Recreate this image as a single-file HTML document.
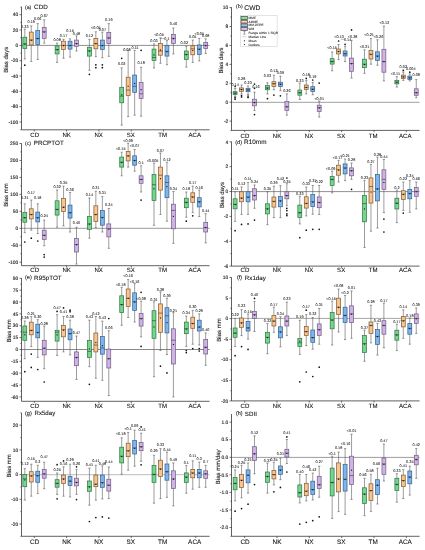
<!DOCTYPE html>
<html lang="en"><head><meta charset="utf-8"><title>Box plots of bias</title>
<style>html,body{margin:0;padding:0;background:#fff}svg{display:block}</style></head>
<body>
<svg width="425" height="550" viewBox="0 0 425 550" font-family="'Liberation Sans', sans-serif" text-rendering="geometricPrecision">
<rect width="425" height="550" fill="#fff"/>
<g id="panel-a">
<line x1="21.5" y1="45.4" x2="209.6" y2="45.4" stroke="#555" stroke-width="0.65"/>
<path d="M24.8 29.3V37.2M24.8 48.6V59M23.7 29.3h2.2M23.7 59h2.2" stroke="#5a5a5a" stroke-width="0.6" fill="none"/>
<rect x="22.85" y="37.2" width="3.9" height="11.4" fill="#72d98b" stroke="#2f6f42" stroke-width="0.7"/>
<line x1="22.85" y1="43.9" x2="26.75" y2="43.9" stroke="#333" stroke-width="0.6"/>
<rect x="24.25" y="43.65" width="1.1" height="1.1" fill="#111"/>
<circle cx="24.8" cy="65.2" r="0.85" fill="#111"/>
<text transform="translate(24.8 27.6) scale(0.1)" font-size="38" text-anchor="middle" fill="#222" stroke="#222" stroke-width="0.5">0.23</text>
<path d="M31.25 25.9V32.1M31.25 45V61.4M30.15 25.9h2.2M30.15 61.4h2.2" stroke="#5a5a5a" stroke-width="0.6" fill="none"/>
<rect x="29.3" y="32.1" width="3.9" height="12.9" fill="#fbc48c" stroke="#775935" stroke-width="0.7"/>
<line x1="29.3" y1="40" x2="33.2" y2="40" stroke="#333" stroke-width="0.6"/>
<rect x="30.7" y="39.75" width="1.1" height="1.1" fill="#111"/>
<text transform="translate(31.25 23.4) scale(0.1)" font-size="38" text-anchor="middle" fill="#222" stroke="#222" stroke-width="0.5">0.19</text>
<path d="M37.75 23.6V30.6M37.75 44.4V59.5M36.65 23.6h2.2M36.65 59.5h2.2" stroke="#5a5a5a" stroke-width="0.6" fill="none"/>
<rect x="35.8" y="30.6" width="3.9" height="13.8" fill="#7ab6f2" stroke="#395c82" stroke-width="0.7"/>
<line x1="35.8" y1="38.4" x2="39.7" y2="38.4" stroke="#333" stroke-width="0.6"/>
<rect x="37.2" y="38.15" width="1.1" height="1.1" fill="#111"/>
<text transform="translate(37.75 20) scale(0.1)" font-size="38" text-anchor="middle" fill="#222" stroke="#222" stroke-width="0.5">0.06</text>
<path d="M44.2 19.8V27.4M44.2 38.4V43.1M43.1 19.8h2.2M43.1 43.1h2.2" stroke="#5a5a5a" stroke-width="0.6" fill="none"/>
<rect x="42.25" y="27.4" width="3.9" height="11" fill="#d0b2e6" stroke="#6d5a82" stroke-width="0.7"/>
<line x1="42.25" y1="31.8" x2="46.15" y2="31.8" stroke="#333" stroke-width="0.6"/>
<rect x="43.65" y="31.55" width="1.1" height="1.1" fill="#111"/>
<text transform="translate(44.2 16.6) scale(0.1)" font-size="38" text-anchor="middle" fill="#222" stroke="#222" stroke-width="0.5">0.67</text>
<path d="M57.1 43.1V45.9M57.1 53.9V62.4M56 43.1h2.2M56 62.4h2.2" stroke="#5a5a5a" stroke-width="0.6" fill="none"/>
<rect x="55.15" y="45.9" width="3.9" height="8" fill="#72d98b" stroke="#2f6f42" stroke-width="0.7"/>
<line x1="55.15" y1="49.5" x2="59.05" y2="49.5" stroke="#333" stroke-width="0.6"/>
<rect x="56.55" y="49.25" width="1.1" height="1.1" fill="#111"/>
<text transform="translate(57.1 41.1) scale(0.1)" font-size="38" text-anchor="middle" fill="#222" stroke="#222" stroke-width="0.5">0.08</text>
<path d="M63.55 39.3V41.2M63.55 49.5V58.2M62.45 39.3h2.2M62.45 58.2h2.2" stroke="#5a5a5a" stroke-width="0.6" fill="none"/>
<rect x="61.6" y="41.2" width="3.9" height="8.3" fill="#fbc48c" stroke="#775935" stroke-width="0.7"/>
<line x1="61.6" y1="45.4" x2="65.5" y2="45.4" stroke="#333" stroke-width="0.6"/>
<rect x="63" y="45.15" width="1.1" height="1.1" fill="#111"/>
<text transform="translate(63.55 37.1) scale(0.1)" font-size="38" text-anchor="middle" fill="#222" stroke="#222" stroke-width="0.5">0.17</text>
<path d="M70.05 38.8V41.2M70.05 49.1V57.1M68.95 38.8h2.2M68.95 57.1h2.2" stroke="#5a5a5a" stroke-width="0.6" fill="none"/>
<rect x="68.1" y="41.2" width="3.9" height="7.9" fill="#7ab6f2" stroke="#395c82" stroke-width="0.7"/>
<line x1="68.1" y1="45.4" x2="72" y2="45.4" stroke="#333" stroke-width="0.6"/>
<rect x="69.5" y="45.15" width="1.1" height="1.1" fill="#111"/>
<text transform="translate(70.05 31.7) scale(0.1)" font-size="38" text-anchor="middle" fill="#222" stroke="#222" stroke-width="0.5">0.15</text>
<path d="M76.5 35.9V40.1M76.5 46.3V51M75.4 35.9h2.2M75.4 51h2.2" stroke="#5a5a5a" stroke-width="0.6" fill="none"/>
<rect x="74.55" y="40.1" width="3.9" height="6.2" fill="#d0b2e6" stroke="#6d5a82" stroke-width="0.7"/>
<line x1="74.55" y1="43.5" x2="78.45" y2="43.5" stroke="#333" stroke-width="0.6"/>
<rect x="75.95" y="43.25" width="1.1" height="1.1" fill="#111"/>
<text transform="translate(76.5 34.6) scale(0.1)" font-size="38" text-anchor="middle" fill="#222" stroke="#222" stroke-width="0.5">0.48</text>
<path d="M89.4 39.3V47.3M89.4 56.1V70.3M88.3 39.3h2.2M88.3 70.3h2.2" stroke="#5a5a5a" stroke-width="0.6" fill="none"/>
<rect x="87.45" y="47.3" width="3.9" height="8.8" fill="#72d98b" stroke="#2f6f42" stroke-width="0.7"/>
<line x1="87.45" y1="50.8" x2="91.35" y2="50.8" stroke="#333" stroke-width="0.6"/>
<rect x="88.85" y="50.55" width="1.1" height="1.1" fill="#111"/>
<circle cx="89.4" cy="74.3" r="0.85" fill="#111"/>
<text transform="translate(89.4 37.1) scale(0.1)" font-size="38" text-anchor="middle" fill="#222" stroke="#222" stroke-width="0.5">0.12</text>
<path d="M95.85 31.8V38.4M95.85 48.8V56.7M94.75 31.8h2.2M94.75 56.7h2.2" stroke="#5a5a5a" stroke-width="0.6" fill="none"/>
<rect x="93.9" y="38.4" width="3.9" height="10.4" fill="#fbc48c" stroke="#775935" stroke-width="0.7"/>
<line x1="93.9" y1="43.5" x2="97.8" y2="43.5" stroke="#333" stroke-width="0.6"/>
<rect x="95.3" y="43.25" width="1.1" height="1.1" fill="#111"/>
<circle cx="95.85" cy="64.8" r="0.85" fill="#111"/>
<circle cx="95.85" cy="67.7" r="0.85" fill="#111"/>
<text transform="translate(95.85 29.1) scale(0.1)" font-size="38" text-anchor="middle" fill="#222" stroke="#222" stroke-width="0.5">&lt;0.05</text>
<path d="M102.35 32.1V40.1M102.35 49.5V57.7M101.25 32.1h2.2M101.25 57.7h2.2" stroke="#5a5a5a" stroke-width="0.6" fill="none"/>
<rect x="100.4" y="40.1" width="3.9" height="9.4" fill="#7ab6f2" stroke="#395c82" stroke-width="0.7"/>
<line x1="100.4" y1="45.4" x2="104.3" y2="45.4" stroke="#333" stroke-width="0.6"/>
<rect x="101.8" y="45.15" width="1.1" height="1.1" fill="#111"/>
<circle cx="102.35" cy="64.8" r="0.85" fill="#111"/>
<circle cx="102.35" cy="67.7" r="0.85" fill="#111"/>
<text transform="translate(102.35 31.3) scale(0.1)" font-size="38" text-anchor="middle" fill="#222" stroke="#222" stroke-width="0.5">0.07</text>
<path d="M108.8 23.6V32.5M108.8 43.5V56.3M107.7 23.6h2.2M107.7 56.3h2.2" stroke="#5a5a5a" stroke-width="0.6" fill="none"/>
<rect x="106.85" y="32.5" width="3.9" height="11" fill="#d0b2e6" stroke="#6d5a82" stroke-width="0.7"/>
<line x1="106.85" y1="37.8" x2="110.75" y2="37.8" stroke="#333" stroke-width="0.6"/>
<rect x="108.25" y="37.55" width="1.1" height="1.1" fill="#111"/>
<text transform="translate(108.8 20.9) scale(0.1)" font-size="38" text-anchor="middle" fill="#222" stroke="#222" stroke-width="0.5">0.19</text>
<path d="M121.7 67.8V87.3M121.7 102.8V125.1M120.6 67.8h2.2M120.6 125.1h2.2" stroke="#5a5a5a" stroke-width="0.6" fill="none"/>
<rect x="119.75" y="87.3" width="3.9" height="15.5" fill="#72d98b" stroke="#2f6f42" stroke-width="0.7"/>
<line x1="119.75" y1="96.1" x2="123.65" y2="96.1" stroke="#333" stroke-width="0.6"/>
<rect x="121.15" y="94.25" width="1.1" height="1.1" fill="#111"/>
<circle cx="121.7" cy="58.3" r="0.85" fill="#111"/>
<text transform="translate(121.7 64.8) scale(0.1)" font-size="38" text-anchor="middle" fill="#222" stroke="#222" stroke-width="0.5">0.02</text>
<path d="M128.15 50.4V77.2M128.15 95.4V116.6M127.05 50.4h2.2M127.05 116.6h2.2" stroke="#5a5a5a" stroke-width="0.6" fill="none"/>
<rect x="126.2" y="77.2" width="3.9" height="18.2" fill="#fbc48c" stroke="#775935" stroke-width="0.7"/>
<line x1="126.2" y1="90.1" x2="130.1" y2="90.1" stroke="#333" stroke-width="0.6"/>
<rect x="127.6" y="85.75" width="1.1" height="1.1" fill="#111"/>
<text transform="translate(126.85 50.6) scale(0.1)" font-size="38" text-anchor="middle" fill="#222" stroke="#222" stroke-width="0.5">0.08</text>
<path d="M134.65 50.4V75M134.65 92.4V115.2M133.55 50.4h2.2M133.55 115.2h2.2" stroke="#5a5a5a" stroke-width="0.6" fill="none"/>
<rect x="132.7" y="75" width="3.9" height="17.4" fill="#7ab6f2" stroke="#395c82" stroke-width="0.7"/>
<line x1="132.7" y1="86.3" x2="136.6" y2="86.3" stroke="#333" stroke-width="0.6"/>
<rect x="134.1" y="82.95" width="1.1" height="1.1" fill="#111"/>
<text transform="translate(135.15 48.7) scale(0.1)" font-size="38" text-anchor="middle" fill="#222" stroke="#222" stroke-width="0.5">0.11</text>
<path d="M141.1 67.3V82.4M141.1 98.5V116.2M140 67.3h2.2M140 116.2h2.2" stroke="#5a5a5a" stroke-width="0.6" fill="none"/>
<rect x="139.15" y="82.4" width="3.9" height="16.1" fill="#d0b2e6" stroke="#6d5a82" stroke-width="0.7"/>
<line x1="139.15" y1="93.8" x2="143.05" y2="93.8" stroke="#333" stroke-width="0.6"/>
<rect x="140.55" y="89.15" width="1.1" height="1.1" fill="#111"/>
<circle cx="141.1" cy="50.3" r="0.85" fill="#111"/>
<text transform="translate(141.1 63.7) scale(0.1)" font-size="38" text-anchor="middle" fill="#222" stroke="#222" stroke-width="0.5">0.18</text>
<path d="M154 43.9V49.1M154 60.5V68M152.9 43.9h2.2M152.9 68h2.2" stroke="#5a5a5a" stroke-width="0.6" fill="none"/>
<rect x="152.05" y="49.1" width="3.9" height="11.4" fill="#72d98b" stroke="#2f6f42" stroke-width="0.7"/>
<line x1="152.05" y1="57.5" x2="155.95" y2="57.5" stroke="#333" stroke-width="0.6"/>
<rect x="153.45" y="54.45" width="1.1" height="1.1" fill="#111"/>
<text transform="translate(154 41.7) scale(0.1)" font-size="38" text-anchor="middle" fill="#222" stroke="#222" stroke-width="0.5">0.03</text>
<path d="M160.45 37.8V43.5M160.45 55.2V63.3M159.35 37.8h2.2M159.35 63.3h2.2" stroke="#5a5a5a" stroke-width="0.6" fill="none"/>
<rect x="158.5" y="43.5" width="3.9" height="11.7" fill="#fbc48c" stroke="#775935" stroke-width="0.7"/>
<line x1="158.5" y1="51" x2="162.4" y2="51" stroke="#333" stroke-width="0.6"/>
<rect x="159.9" y="49.45" width="1.1" height="1.1" fill="#111"/>
<text transform="translate(158.95 36.1) scale(0.1)" font-size="38" text-anchor="middle" fill="#222" stroke="#222" stroke-width="0.5">&lt;0.05</text>
<path d="M166.95 40.6V45.4M166.95 56.1V64.7M165.85 40.6h2.2M165.85 64.7h2.2" stroke="#5a5a5a" stroke-width="0.6" fill="none"/>
<rect x="165" y="45.4" width="3.9" height="10.7" fill="#7ab6f2" stroke="#395c82" stroke-width="0.7"/>
<line x1="165" y1="51.4" x2="168.9" y2="51.4" stroke="#333" stroke-width="0.6"/>
<rect x="166.4" y="51.15" width="1.1" height="1.1" fill="#111"/>
<text transform="translate(166.95 40.2) scale(0.1)" font-size="38" text-anchor="middle" fill="#222" stroke="#222" stroke-width="0.5">0.1</text>
<path d="M173.4 28V34.4M173.4 43.5V53.9M172.3 28h2.2M172.3 53.9h2.2" stroke="#5a5a5a" stroke-width="0.6" fill="none"/>
<rect x="171.45" y="34.4" width="3.9" height="9.1" fill="#d0b2e6" stroke="#6d5a82" stroke-width="0.7"/>
<line x1="171.45" y1="38.4" x2="175.35" y2="38.4" stroke="#333" stroke-width="0.6"/>
<rect x="172.85" y="38.15" width="1.1" height="1.1" fill="#111"/>
<text transform="translate(173.4 25.3) scale(0.1)" font-size="38" text-anchor="middle" fill="#222" stroke="#222" stroke-width="0.5">0.46</text>
<path d="M186.3 46.3V51M186.3 59.5V67.1M185.2 46.3h2.2M185.2 67.1h2.2" stroke="#5a5a5a" stroke-width="0.6" fill="none"/>
<rect x="184.35" y="51" width="3.9" height="8.5" fill="#72d98b" stroke="#2f6f42" stroke-width="0.7"/>
<line x1="184.35" y1="54.4" x2="188.25" y2="54.4" stroke="#333" stroke-width="0.6"/>
<rect x="185.75" y="54.15" width="1.1" height="1.1" fill="#111"/>
<text transform="translate(184.3 44.2) scale(0.1)" font-size="38" text-anchor="middle" fill="#222" stroke="#222" stroke-width="0.5">0.02</text>
<path d="M192.75 40.1V45.9M192.75 54.8V62.4M191.65 40.1h2.2M191.65 62.4h2.2" stroke="#5a5a5a" stroke-width="0.6" fill="none"/>
<rect x="190.8" y="45.9" width="3.9" height="8.9" fill="#fbc48c" stroke="#775935" stroke-width="0.7"/>
<line x1="190.8" y1="48.8" x2="194.7" y2="48.8" stroke="#333" stroke-width="0.6"/>
<rect x="192.2" y="49.95" width="1.1" height="1.1" fill="#111"/>
<text transform="translate(192.75 38.3) scale(0.1)" font-size="38" text-anchor="middle" fill="#222" stroke="#222" stroke-width="0.5">0.05</text>
<path d="M199.25 38.4V45M199.25 54.4V60.9M198.15 38.4h2.2M198.15 60.9h2.2" stroke="#5a5a5a" stroke-width="0.6" fill="none"/>
<rect x="197.3" y="45" width="3.9" height="9.4" fill="#7ab6f2" stroke="#395c82" stroke-width="0.7"/>
<line x1="197.3" y1="49.1" x2="201.2" y2="49.1" stroke="#333" stroke-width="0.6"/>
<rect x="198.7" y="48.85" width="1.1" height="1.1" fill="#111"/>
<text transform="translate(199.25 35.1) scale(0.1)" font-size="38" text-anchor="middle" fill="#222" stroke="#222" stroke-width="0.5">&lt;0.05</text>
<path d="M205.7 38.8V42.5M205.7 48.6V53.5M204.6 38.8h2.2M204.6 53.5h2.2" stroke="#5a5a5a" stroke-width="0.6" fill="none"/>
<rect x="203.75" y="42.5" width="3.9" height="6.1" fill="#d0b2e6" stroke="#6d5a82" stroke-width="0.7"/>
<line x1="203.75" y1="45.4" x2="207.65" y2="45.4" stroke="#333" stroke-width="0.6"/>
<rect x="205.15" y="45.15" width="1.1" height="1.1" fill="#111"/>
<text transform="translate(205.7 37) scale(0.1)" font-size="38" text-anchor="middle" fill="#222" stroke="#222" stroke-width="0.5">0.68</text>
<path d="M21.5 6.8V129.8H209.6" stroke="#383838" stroke-width="0.8" fill="none"/>
<path d="M21.5 14.7h-2M21.5 30.03h-2M21.5 45.36h-2M21.5 60.69h-2M21.5 76.02h-2M21.5 91.35h-2M21.5 106.68h-2M21.5 122.01h-2M21.5 22.37h-1.1M21.5 37.7h-1.1M21.5 53.02h-1.1M21.5 68.36h-1.1M21.5 83.69h-1.1M21.5 99.02h-1.1M21.5 114.35h-1.1M21.5 129.68h-1.1M21.5 7.03h-1.1M34.3 129.8v1.7M66.6 129.8v1.7M98.9 129.8v1.7M131.2 129.8v1.7M163.5 129.8v1.7M195.8 129.8v1.7" stroke="#333" stroke-width="0.7" fill="none"/>
<text transform="translate(18.3 16.4) scale(0.1)" font-size="49" text-anchor="end" fill="#222" stroke="#222" stroke-width="1.2">40</text>
<text transform="translate(18.3 31.73) scale(0.1)" font-size="49" text-anchor="end" fill="#222" stroke="#222" stroke-width="1.2">20</text>
<text transform="translate(18.3 47.06) scale(0.1)" font-size="49" text-anchor="end" fill="#222" stroke="#222" stroke-width="1.2">0</text>
<text transform="translate(18.3 62.39) scale(0.1)" font-size="49" text-anchor="end" fill="#222" stroke="#222" stroke-width="1.2">-20</text>
<text transform="translate(18.3 77.72) scale(0.1)" font-size="49" text-anchor="end" fill="#222" stroke="#222" stroke-width="1.2">-40</text>
<text transform="translate(18.3 93.05) scale(0.1)" font-size="49" text-anchor="end" fill="#222" stroke="#222" stroke-width="1.2">-60</text>
<text transform="translate(18.3 108.38) scale(0.1)" font-size="49" text-anchor="end" fill="#222" stroke="#222" stroke-width="1.2">-80</text>
<text transform="translate(18.3 123.71) scale(0.1)" font-size="49" text-anchor="end" fill="#222" stroke="#222" stroke-width="1.2">-100</text>
<text transform="translate(24.9 8.6) scale(0.1)" font-size="53" text-anchor="start" fill="#111" stroke="#111" stroke-width="0.8">(a)</text>
<text transform="translate(34.1 9) scale(0.1)" font-size="63" text-anchor="start" fill="#111" stroke="#111" stroke-width="0.8">CDD</text>
<text transform="translate(8 59.8) rotate(-90) scale(0.1)" font-size="60" text-anchor="middle" fill="#111" stroke="#111" stroke-width="0.8">Bias days</text>
<text transform="translate(34.7 137.2) scale(0.1)" font-size="61" text-anchor="middle" fill="#111" stroke="#111" stroke-width="0.8">CD</text>
<text transform="translate(66.7 137.2) scale(0.1)" font-size="61" text-anchor="middle" fill="#111" stroke="#111" stroke-width="0.8">NK</text>
<text transform="translate(98.7 137.2) scale(0.1)" font-size="61" text-anchor="middle" fill="#111" stroke="#111" stroke-width="0.8">NX</text>
<text transform="translate(130.7 137.2) scale(0.1)" font-size="61" text-anchor="middle" fill="#111" stroke="#111" stroke-width="0.8">SX</text>
<text transform="translate(162.7 137.2) scale(0.1)" font-size="61" text-anchor="middle" fill="#111" stroke="#111" stroke-width="0.8">TM</text>
<text transform="translate(194.7 137.2) scale(0.1)" font-size="61" text-anchor="middle" fill="#111" stroke="#111" stroke-width="0.8">ACA</text>
</g>
<g id="panel-b">
<line x1="231.5" y1="102.3" x2="419.6" y2="102.3" stroke="#6a6a6a" stroke-width="0.65"/>
<path d="M235.1 88.5V91.7M235.1 94.5V96.4M234 88.5h2.2M234 96.4h2.2" stroke="#5a5a5a" stroke-width="0.6" fill="none"/>
<rect x="233.15" y="91.7" width="3.9" height="2.8" fill="#72d98b" stroke="#2f6f42" stroke-width="0.7"/>
<line x1="233.15" y1="93" x2="237.05" y2="93" stroke="#333" stroke-width="0.6"/>
<rect x="234.55" y="92.75" width="1.1" height="1.1" fill="#111"/>
<circle cx="235.1" cy="86.5" r="0.85" fill="#111"/>
<circle cx="235.1" cy="97.6" r="0.85" fill="#111"/>
<circle cx="235.1" cy="99.2" r="0.85" fill="#111"/>
<text transform="translate(235.1 85.6) scale(0.1)" font-size="38" text-anchor="middle" fill="#222" stroke="#222" stroke-width="0.5">0.14</text>
<path d="M241.55 85V87.9M241.55 91.3V94M240.45 85h2.2M240.45 94h2.2" stroke="#5a5a5a" stroke-width="0.6" fill="none"/>
<rect x="239.6" y="87.9" width="3.9" height="3.4" fill="#fbc48c" stroke="#775935" stroke-width="0.7"/>
<line x1="239.6" y1="89.4" x2="243.5" y2="89.4" stroke="#333" stroke-width="0.6"/>
<rect x="241" y="89.15" width="1.1" height="1.1" fill="#111"/>
<circle cx="241.55" cy="95.5" r="0.85" fill="#111"/>
<circle cx="241.55" cy="96.9" r="0.85" fill="#111"/>
<text transform="translate(241.55 80.1) scale(0.1)" font-size="38" text-anchor="middle" fill="#222" stroke="#222" stroke-width="0.5">0.28</text>
<path d="M248.05 86V88.3M248.05 91.7V94.5M246.95 86h2.2M246.95 94.5h2.2" stroke="#5a5a5a" stroke-width="0.6" fill="none"/>
<rect x="246.1" y="88.3" width="3.9" height="3.4" fill="#7ab6f2" stroke="#395c82" stroke-width="0.7"/>
<line x1="246.1" y1="89.8" x2="250" y2="89.8" stroke="#333" stroke-width="0.6"/>
<rect x="247.5" y="89.55" width="1.1" height="1.1" fill="#111"/>
<circle cx="248.05" cy="96" r="0.85" fill="#111"/>
<circle cx="248.05" cy="97.4" r="0.85" fill="#111"/>
<text transform="translate(248.05 83.7) scale(0.1)" font-size="38" text-anchor="middle" fill="#222" stroke="#222" stroke-width="0.5">0.23</text>
<path d="M254.5 92.2V99.2M254.5 105.8V110.5M253.4 92.2h2.2M253.4 110.5h2.2" stroke="#5a5a5a" stroke-width="0.6" fill="none"/>
<rect x="252.55" y="99.2" width="3.9" height="6.6" fill="#d0b2e6" stroke="#6d5a82" stroke-width="0.7"/>
<line x1="252.55" y1="102.4" x2="256.45" y2="102.4" stroke="#333" stroke-width="0.6"/>
<rect x="253.95" y="102.15" width="1.1" height="1.1" fill="#111"/>
<circle cx="254.5" cy="84.1" r="0.85" fill="#111"/>
<circle cx="254.5" cy="88.3" r="0.85" fill="#111"/>
<circle cx="254.5" cy="114.6" r="0.85" fill="#111"/>
<text transform="translate(256 88.4) scale(0.1)" font-size="38" text-anchor="middle" fill="#222" stroke="#222" stroke-width="0.5">0.16</text>
<path d="M267.45 82.8V85.6M267.45 89.8V94M266.35 82.8h2.2M266.35 94h2.2" stroke="#5a5a5a" stroke-width="0.6" fill="none"/>
<rect x="265.5" y="85.6" width="3.9" height="4.2" fill="#72d98b" stroke="#2f6f42" stroke-width="0.7"/>
<line x1="265.5" y1="87.9" x2="269.4" y2="87.9" stroke="#333" stroke-width="0.6"/>
<rect x="266.9" y="87.65" width="1.1" height="1.1" fill="#111"/>
<circle cx="267.45" cy="98.7" r="0.85" fill="#111"/>
<text transform="translate(267.45 77.1) scale(0.1)" font-size="38" text-anchor="middle" fill="#222" stroke="#222" stroke-width="0.5">0.03</text>
<path d="M273.9 75.2V81.7M273.9 86.4V89.8M272.8 75.2h2.2M272.8 89.8h2.2" stroke="#5a5a5a" stroke-width="0.6" fill="none"/>
<rect x="271.95" y="81.7" width="3.9" height="4.7" fill="#fbc48c" stroke="#775935" stroke-width="0.7"/>
<line x1="271.95" y1="83.6" x2="275.85" y2="83.6" stroke="#333" stroke-width="0.6"/>
<rect x="273.35" y="83.35" width="1.1" height="1.1" fill="#111"/>
<circle cx="273.9" cy="95.1" r="0.85" fill="#111"/>
<text transform="translate(273.9 72) scale(0.1)" font-size="38" text-anchor="middle" fill="#222" stroke="#222" stroke-width="0.5">0.12</text>
<path d="M280.4 76.2V82.2M280.4 86.6V90.7M279.3 76.2h2.2M279.3 90.7h2.2" stroke="#5a5a5a" stroke-width="0.6" fill="none"/>
<rect x="278.45" y="82.2" width="3.9" height="4.4" fill="#7ab6f2" stroke="#395c82" stroke-width="0.7"/>
<line x1="278.45" y1="84.1" x2="282.35" y2="84.1" stroke="#333" stroke-width="0.6"/>
<rect x="279.85" y="83.85" width="1.1" height="1.1" fill="#111"/>
<circle cx="280.4" cy="95.8" r="0.85" fill="#111"/>
<text transform="translate(280.4 74.4) scale(0.1)" font-size="38" text-anchor="middle" fill="#222" stroke="#222" stroke-width="0.5">0.09</text>
<path d="M286.85 93.9V101.5M286.85 110.3V115.2M285.75 93.9h2.2M285.75 115.2h2.2" stroke="#5a5a5a" stroke-width="0.6" fill="none"/>
<rect x="284.9" y="101.5" width="3.9" height="8.8" fill="#d0b2e6" stroke="#6d5a82" stroke-width="0.7"/>
<line x1="284.9" y1="106.7" x2="288.8" y2="106.7" stroke="#333" stroke-width="0.6"/>
<rect x="286.3" y="106.45" width="1.1" height="1.1" fill="#111"/>
<text transform="translate(286.85 91.8) scale(0.1)" font-size="38" text-anchor="middle" fill="#222" stroke="#222" stroke-width="0.5">0.26</text>
<path d="M299.8 83.1V90.1M299.8 95.2V99.5M298.7 83.1h2.2M298.7 99.5h2.2" stroke="#5a5a5a" stroke-width="0.6" fill="none"/>
<rect x="297.85" y="90.1" width="3.9" height="5.1" fill="#72d98b" stroke="#2f6f42" stroke-width="0.7"/>
<line x1="297.85" y1="92.6" x2="301.75" y2="92.6" stroke="#333" stroke-width="0.6"/>
<rect x="299.25" y="92.35" width="1.1" height="1.1" fill="#111"/>
<text transform="translate(299.8 82.3) scale(0.1)" font-size="38" text-anchor="middle" fill="#222" stroke="#222" stroke-width="0.5">0.23</text>
<path d="M306.25 80.6V85M306.25 89.5V93.9M305.15 80.6h2.2M305.15 93.9h2.2" stroke="#5a5a5a" stroke-width="0.6" fill="none"/>
<rect x="304.3" y="85" width="3.9" height="4.5" fill="#fbc48c" stroke="#775935" stroke-width="0.7"/>
<line x1="304.3" y1="87.3" x2="308.2" y2="87.3" stroke="#333" stroke-width="0.6"/>
<rect x="305.7" y="87.05" width="1.1" height="1.1" fill="#111"/>
<circle cx="306.25" cy="78.4" r="0.85" fill="#111"/>
<text transform="translate(306.25 76.1) scale(0.1)" font-size="38" text-anchor="middle" fill="#222" stroke="#222" stroke-width="0.5">0.18</text>
<path d="M312.75 82.5V86.7M312.75 91.4V94.8M311.65 82.5h2.2M311.65 94.8h2.2" stroke="#5a5a5a" stroke-width="0.6" fill="none"/>
<rect x="310.8" y="86.7" width="3.9" height="4.7" fill="#7ab6f2" stroke="#395c82" stroke-width="0.7"/>
<line x1="310.8" y1="89.1" x2="314.7" y2="89.1" stroke="#333" stroke-width="0.6"/>
<rect x="312.2" y="88.85" width="1.1" height="1.1" fill="#111"/>
<circle cx="312.75" cy="80" r="0.85" fill="#111"/>
<text transform="translate(312.75 78.3) scale(0.1)" font-size="38" text-anchor="middle" fill="#222" stroke="#222" stroke-width="0.5">0.19</text>
<path d="M319.2 101V105.2M319.2 111.5V117.1M318.1 101h2.2M318.1 117.1h2.2" stroke="#5a5a5a" stroke-width="0.6" fill="none"/>
<rect x="317.25" y="105.2" width="3.9" height="6.3" fill="#d0b2e6" stroke="#6d5a82" stroke-width="0.7"/>
<line x1="317.25" y1="107.7" x2="321.15" y2="107.7" stroke="#333" stroke-width="0.6"/>
<rect x="318.65" y="107.45" width="1.1" height="1.1" fill="#111"/>
<circle cx="319.2" cy="83.1" r="0.85" fill="#111"/>
<text transform="translate(319.2 99.7) scale(0.1)" font-size="38" text-anchor="middle" fill="#222" stroke="#222" stroke-width="0.5">&lt;0.01</text>
<path d="M332.15 52V58.7M332.15 64.1V70.8M331.05 52h2.2M331.05 70.8h2.2" stroke="#5a5a5a" stroke-width="0.6" fill="none"/>
<rect x="330.2" y="58.7" width="3.9" height="5.4" fill="#72d98b" stroke="#2f6f42" stroke-width="0.7"/>
<line x1="330.2" y1="61.4" x2="334.1" y2="61.4" stroke="#333" stroke-width="0.6"/>
<rect x="331.6" y="61.15" width="1.1" height="1.1" fill="#111"/>
<text transform="translate(332.15 49.3) scale(0.1)" font-size="38" text-anchor="middle" fill="#222" stroke="#222" stroke-width="0.5">&lt;0.15</text>
<path d="M338.6 44.5V49M338.6 53.9V59.6M337.5 44.5h2.2M337.5 59.6h2.2" stroke="#5a5a5a" stroke-width="0.6" fill="none"/>
<rect x="336.65" y="49" width="3.9" height="4.9" fill="#fbc48c" stroke="#775935" stroke-width="0.7"/>
<line x1="336.65" y1="51.3" x2="340.55" y2="51.3" stroke="#333" stroke-width="0.6"/>
<rect x="338.05" y="51.05" width="1.1" height="1.1" fill="#111"/>
<circle cx="338.6" cy="41" r="0.85" fill="#111"/>
<text transform="translate(339.1 37.7) scale(0.1)" font-size="38" text-anchor="middle" fill="#222" stroke="#222" stroke-width="0.5">&lt;0.13</text>
<path d="M345.1 46.3V51M345.1 56V61.6M344 46.3h2.2M344 61.6h2.2" stroke="#5a5a5a" stroke-width="0.6" fill="none"/>
<rect x="343.15" y="51" width="3.9" height="5" fill="#7ab6f2" stroke="#395c82" stroke-width="0.7"/>
<line x1="343.15" y1="53.6" x2="347.05" y2="53.6" stroke="#333" stroke-width="0.6"/>
<rect x="344.55" y="53.35" width="1.1" height="1.1" fill="#111"/>
<circle cx="345.1" cy="44.3" r="0.85" fill="#111"/>
<text transform="translate(347.6 40.9) scale(0.1)" font-size="38" text-anchor="middle" fill="#222" stroke="#222" stroke-width="0.5">0.14</text>
<path d="M351.55 40.3V58.1M351.55 71.3V78.1M350.45 40.3h2.2M350.45 78.1h2.2" stroke="#5a5a5a" stroke-width="0.6" fill="none"/>
<rect x="349.6" y="58.1" width="3.9" height="13.2" fill="#d0b2e6" stroke="#6d5a82" stroke-width="0.7"/>
<line x1="349.6" y1="63.5" x2="353.5" y2="63.5" stroke="#333" stroke-width="0.6"/>
<rect x="351" y="63.25" width="1.1" height="1.1" fill="#111"/>
<circle cx="351.55" cy="29.9" r="0.85" fill="#111"/>
<text transform="translate(352.55 37.7) scale(0.1)" font-size="38" text-anchor="middle" fill="#222" stroke="#222" stroke-width="0.5">&lt;0.28</text>
<path d="M364.5 49.8V59.2M364.5 67.7V73.4M363.4 49.8h2.2M363.4 73.4h2.2" stroke="#5a5a5a" stroke-width="0.6" fill="none"/>
<rect x="362.55" y="59.2" width="3.9" height="8.5" fill="#72d98b" stroke="#2f6f42" stroke-width="0.7"/>
<line x1="362.55" y1="64.2" x2="366.45" y2="64.2" stroke="#333" stroke-width="0.6"/>
<rect x="363.95" y="63.95" width="1.1" height="1.1" fill="#111"/>
<text transform="translate(364.5 48.4) scale(0.1)" font-size="38" text-anchor="middle" fill="#222" stroke="#222" stroke-width="0.5">&lt;0.31</text>
<path d="M370.95 38.6V50.5M370.95 59V64.2M369.85 38.6h2.2M369.85 64.2h2.2" stroke="#5a5a5a" stroke-width="0.6" fill="none"/>
<rect x="369" y="50.5" width="3.9" height="8.5" fill="#fbc48c" stroke="#775935" stroke-width="0.7"/>
<line x1="369" y1="54.2" x2="372.9" y2="54.2" stroke="#333" stroke-width="0.6"/>
<rect x="370.4" y="53.95" width="1.1" height="1.1" fill="#111"/>
<text transform="translate(369.15 35.9) scale(0.1)" font-size="38" text-anchor="middle" fill="#222" stroke="#222" stroke-width="0.5">&lt;0.21</text>
<path d="M377.45 39.8V51.8M377.45 60.5V65.2M376.35 39.8h2.2M376.35 65.2h2.2" stroke="#5a5a5a" stroke-width="0.6" fill="none"/>
<rect x="375.5" y="51.8" width="3.9" height="8.7" fill="#7ab6f2" stroke="#395c82" stroke-width="0.7"/>
<line x1="375.5" y1="56" x2="379.4" y2="56" stroke="#333" stroke-width="0.6"/>
<rect x="376.9" y="55.75" width="1.1" height="1.1" fill="#111"/>
<text transform="translate(378.45 38.4) scale(0.1)" font-size="38" text-anchor="middle" fill="#222" stroke="#222" stroke-width="0.5">&lt;0.26</text>
<path d="M383.9 26.1V49.3M383.9 72.2V80.9M382.8 26.1h2.2M382.8 80.9h2.2" stroke="#5a5a5a" stroke-width="0.6" fill="none"/>
<rect x="381.95" y="49.3" width="3.9" height="22.9" fill="#d0b2e6" stroke="#6d5a82" stroke-width="0.7"/>
<line x1="381.95" y1="61.5" x2="385.85" y2="61.5" stroke="#333" stroke-width="0.6"/>
<rect x="383.35" y="61.25" width="1.1" height="1.1" fill="#111"/>
<text transform="translate(384.4 23.5) scale(0.1)" font-size="38" text-anchor="middle" fill="#222" stroke="#222" stroke-width="0.5">&lt;0.13</text>
<path d="M396.85 76.6V80.4M396.85 83.9V87.1M395.75 76.6h2.2M395.75 87.1h2.2" stroke="#5a5a5a" stroke-width="0.6" fill="none"/>
<rect x="394.9" y="80.4" width="3.9" height="3.5" fill="#72d98b" stroke="#2f6f42" stroke-width="0.7"/>
<line x1="394.9" y1="82.1" x2="398.8" y2="82.1" stroke="#333" stroke-width="0.6"/>
<rect x="396.3" y="81.85" width="1.1" height="1.1" fill="#111"/>
<text transform="translate(395.35 74.5) scale(0.1)" font-size="38" text-anchor="middle" fill="#222" stroke="#222" stroke-width="0.5">&lt;0.11</text>
<path d="M403.3 72.2V75.1M403.3 78.6V80.4M402.2 72.2h2.2M402.2 80.4h2.2" stroke="#5a5a5a" stroke-width="0.6" fill="none"/>
<rect x="401.35" y="75.1" width="3.9" height="3.5" fill="#fbc48c" stroke="#775935" stroke-width="0.7"/>
<line x1="401.35" y1="76.8" x2="405.25" y2="76.8" stroke="#333" stroke-width="0.6"/>
<rect x="402.75" y="76.55" width="1.1" height="1.1" fill="#111"/>
<circle cx="403.3" cy="70.4" r="0.85" fill="#111"/>
<text transform="translate(403.3 67.5) scale(0.1)" font-size="38" text-anchor="middle" fill="#222" stroke="#222" stroke-width="0.5">0.02</text>
<path d="M409.8 73.9V76.1M409.8 79.4V80.9M408.7 73.9h2.2M408.7 80.9h2.2" stroke="#5a5a5a" stroke-width="0.6" fill="none"/>
<rect x="407.85" y="76.1" width="3.9" height="3.3" fill="#7ab6f2" stroke="#395c82" stroke-width="0.7"/>
<line x1="407.85" y1="77.8" x2="411.75" y2="77.8" stroke="#333" stroke-width="0.6"/>
<rect x="409.25" y="77.55" width="1.1" height="1.1" fill="#111"/>
<circle cx="409.8" cy="72.2" r="0.85" fill="#111"/>
<text transform="translate(410.8 69.5) scale(0.1)" font-size="38" text-anchor="middle" fill="#222" stroke="#222" stroke-width="0.5">0.004</text>
<path d="M416.25 79.6V88.8M416.25 95.3V97.8M415.15 79.6h2.2M415.15 97.8h2.2" stroke="#5a5a5a" stroke-width="0.6" fill="none"/>
<rect x="414.3" y="88.8" width="3.9" height="6.5" fill="#d0b2e6" stroke="#6d5a82" stroke-width="0.7"/>
<line x1="414.3" y1="92.6" x2="418.2" y2="92.6" stroke="#333" stroke-width="0.6"/>
<rect x="415.7" y="92.35" width="1.1" height="1.1" fill="#111"/>
<text transform="translate(416.25 75.7) scale(0.1)" font-size="38" text-anchor="middle" fill="#222" stroke="#222" stroke-width="0.5">0.08</text>
<path d="M231.5 7.2V130.4H419.6" stroke="#383838" stroke-width="0.8" fill="none"/>
<path d="M231.5 7.6h-2M231.5 26.52h-2M231.5 45.44h-2M231.5 64.36h-2M231.5 83.28h-2M231.5 102.2h-2M231.5 121.12h-2M231.5 17.06h-1.1M231.5 35.98h-1.1M231.5 54.9h-1.1M231.5 73.82h-1.1M231.5 92.74h-1.1M231.5 111.66h-1.1M231.5 130.58h-1.1M244.6 130.4v1.7M276.95 130.4v1.7M309.3 130.4v1.7M341.65 130.4v1.7M374 130.4v1.7M406.35 130.4v1.7" stroke="#333" stroke-width="0.7" fill="none"/>
<text transform="translate(228.3 9.3) scale(0.1)" font-size="49" text-anchor="end" fill="#222" stroke="#222" stroke-width="1.2">10</text>
<text transform="translate(228.3 28.22) scale(0.1)" font-size="49" text-anchor="end" fill="#222" stroke="#222" stroke-width="1.2">8</text>
<text transform="translate(228.3 47.14) scale(0.1)" font-size="49" text-anchor="end" fill="#222" stroke="#222" stroke-width="1.2">6</text>
<text transform="translate(228.3 66.06) scale(0.1)" font-size="49" text-anchor="end" fill="#222" stroke="#222" stroke-width="1.2">4</text>
<text transform="translate(228.3 84.98) scale(0.1)" font-size="49" text-anchor="end" fill="#222" stroke="#222" stroke-width="1.2">2</text>
<text transform="translate(228.3 103.9) scale(0.1)" font-size="49" text-anchor="end" fill="#222" stroke="#222" stroke-width="1.2">0</text>
<text transform="translate(228.3 122.82) scale(0.1)" font-size="49" text-anchor="end" fill="#222" stroke="#222" stroke-width="1.2">-2</text>
<text transform="translate(236 8.4) scale(0.1)" font-size="57" text-anchor="start" fill="#111" stroke="#111" stroke-width="0.8" font-family="'Liberation Serif', serif">(b)</text>
<text transform="translate(244.3 9.9) scale(0.1)" font-size="67" text-anchor="start" fill="#111" stroke="#111" stroke-width="0.8">CWD</text>
<text transform="translate(223.2 60.5) rotate(-90) scale(0.1)" font-size="60" text-anchor="middle" fill="#111" stroke="#111" stroke-width="0.8">Bias days</text>
<text transform="translate(245 138) scale(0.1)" font-size="61" text-anchor="middle" fill="#111" stroke="#111" stroke-width="0.8">CD</text>
<text transform="translate(277.05 138) scale(0.1)" font-size="61" text-anchor="middle" fill="#111" stroke="#111" stroke-width="0.8">NK</text>
<text transform="translate(309.1 138) scale(0.1)" font-size="61" text-anchor="middle" fill="#111" stroke="#111" stroke-width="0.8">NX</text>
<text transform="translate(341.15 138) scale(0.1)" font-size="61" text-anchor="middle" fill="#111" stroke="#111" stroke-width="0.8">SX</text>
<text transform="translate(373.2 138) scale(0.1)" font-size="61" text-anchor="middle" fill="#111" stroke="#111" stroke-width="0.8">TM</text>
<text transform="translate(405.25 138) scale(0.1)" font-size="61" text-anchor="middle" fill="#111" stroke="#111" stroke-width="0.8">ACA</text>
</g>
<g id="panel-c">
<line x1="21.5" y1="228.3" x2="209.6" y2="228.3" stroke="#666" stroke-width="0.65"/>
<path d="M24.8 203.8V212.6M24.8 222.2V232.7M23.7 203.8h2.2M23.7 232.7h2.2" stroke="#5a5a5a" stroke-width="0.6" fill="none"/>
<rect x="22.85" y="212.6" width="3.9" height="9.6" fill="#72d98b" stroke="#2f6f42" stroke-width="0.7"/>
<line x1="22.85" y1="217.6" x2="26.75" y2="217.6" stroke="#333" stroke-width="0.6"/>
<rect x="24.25" y="217.35" width="1.1" height="1.1" fill="#111"/>
<circle cx="24.8" cy="242" r="0.85" fill="#111"/>
<text transform="translate(24.8 198.6) scale(0.1)" font-size="38" text-anchor="middle" fill="#222" stroke="#222" stroke-width="0.5">0.21</text>
<path d="M31.25 200V208.8M31.25 218.9V230.2M30.15 200h2.2M30.15 230.2h2.2" stroke="#5a5a5a" stroke-width="0.6" fill="none"/>
<rect x="29.3" y="208.8" width="3.9" height="10.1" fill="#fbc48c" stroke="#775935" stroke-width="0.7"/>
<line x1="29.3" y1="214.4" x2="33.2" y2="214.4" stroke="#333" stroke-width="0.6"/>
<rect x="30.7" y="214.15" width="1.1" height="1.1" fill="#111"/>
<circle cx="31.25" cy="238.2" r="0.85" fill="#111"/>
<text transform="translate(31.25 193.6) scale(0.1)" font-size="38" text-anchor="middle" fill="#222" stroke="#222" stroke-width="0.5">0.17</text>
<path d="M37.75 203.8V212.1M37.75 221.9V233.5M36.65 203.8h2.2M36.65 233.5h2.2" stroke="#5a5a5a" stroke-width="0.6" fill="none"/>
<rect x="35.8" y="212.1" width="3.9" height="9.8" fill="#7ab6f2" stroke="#395c82" stroke-width="0.7"/>
<line x1="35.8" y1="217.6" x2="39.7" y2="217.6" stroke="#333" stroke-width="0.6"/>
<rect x="37.2" y="217.35" width="1.1" height="1.1" fill="#111"/>
<circle cx="37.75" cy="241" r="0.85" fill="#111"/>
<text transform="translate(37.75 199.1) scale(0.1)" font-size="38" text-anchor="middle" fill="#222" stroke="#222" stroke-width="0.5">0.18</text>
<path d="M44.2 220.1V230.2M44.2 239.5V245.8M43.1 220.1h2.2M43.1 245.8h2.2" stroke="#5a5a5a" stroke-width="0.6" fill="none"/>
<rect x="42.25" y="230.2" width="3.9" height="9.3" fill="#d0b2e6" stroke="#6d5a82" stroke-width="0.7"/>
<line x1="42.25" y1="235.2" x2="46.15" y2="235.2" stroke="#333" stroke-width="0.6"/>
<rect x="43.65" y="234.95" width="1.1" height="1.1" fill="#111"/>
<circle cx="44.2" cy="254.6" r="0.85" fill="#111"/>
<circle cx="44.2" cy="257.1" r="0.85" fill="#111"/>
<text transform="translate(44.2 217) scale(0.1)" font-size="38" text-anchor="middle" fill="#222" stroke="#222" stroke-width="0.5">0.24</text>
<path d="M57.1 190V200.8M57.1 215.1V227.2M56 190h2.2M56 227.2h2.2" stroke="#5a5a5a" stroke-width="0.6" fill="none"/>
<rect x="55.15" y="200.8" width="3.9" height="14.3" fill="#72d98b" stroke="#2f6f42" stroke-width="0.7"/>
<line x1="55.15" y1="209.3" x2="59.05" y2="209.3" stroke="#333" stroke-width="0.6"/>
<rect x="56.55" y="209.05" width="1.1" height="1.1" fill="#111"/>
<text transform="translate(57.1 188.1) scale(0.1)" font-size="38" text-anchor="middle" fill="#222" stroke="#222" stroke-width="0.5">0.32</text>
<path d="M63.55 186.2V198.3M63.55 211.4V225.9M62.45 186.2h2.2M62.45 225.9h2.2" stroke="#5a5a5a" stroke-width="0.6" fill="none"/>
<rect x="61.6" y="198.3" width="3.9" height="13.1" fill="#fbc48c" stroke="#775935" stroke-width="0.7"/>
<line x1="61.6" y1="207.1" x2="65.5" y2="207.1" stroke="#333" stroke-width="0.6"/>
<rect x="63" y="206.85" width="1.1" height="1.1" fill="#111"/>
<text transform="translate(63.55 184.1) scale(0.1)" font-size="38" text-anchor="middle" fill="#222" stroke="#222" stroke-width="0.5">0.35</text>
<path d="M70.05 192.5V205.1M70.05 218.1V232M68.95 192.5h2.2M68.95 232h2.2" stroke="#5a5a5a" stroke-width="0.6" fill="none"/>
<rect x="68.1" y="205.1" width="3.9" height="13" fill="#7ab6f2" stroke="#395c82" stroke-width="0.7"/>
<line x1="68.1" y1="212.6" x2="72" y2="212.6" stroke="#333" stroke-width="0.6"/>
<rect x="69.5" y="212.35" width="1.1" height="1.1" fill="#111"/>
<text transform="translate(70.05 190.6) scale(0.1)" font-size="38" text-anchor="middle" fill="#222" stroke="#222" stroke-width="0.5">0.36</text>
<path d="M76.5 227.2V238.5M76.5 252V264.1M75.4 227.2h2.2M75.4 264.1h2.2" stroke="#5a5a5a" stroke-width="0.6" fill="none"/>
<rect x="74.55" y="238.5" width="3.9" height="13.5" fill="#d0b2e6" stroke="#6d5a82" stroke-width="0.7"/>
<line x1="74.55" y1="244.5" x2="78.45" y2="244.5" stroke="#333" stroke-width="0.6"/>
<rect x="75.95" y="244.25" width="1.1" height="1.1" fill="#111"/>
<text transform="translate(76.5 224.3) scale(0.1)" font-size="38" text-anchor="middle" fill="#222" stroke="#222" stroke-width="0.5">0.40</text>
<path d="M89.4 198V216.4M89.4 229.4V238.2M88.3 198h2.2M88.3 238.2h2.2" stroke="#5a5a5a" stroke-width="0.6" fill="none"/>
<rect x="87.45" y="216.4" width="3.9" height="13" fill="#72d98b" stroke="#2f6f42" stroke-width="0.7"/>
<line x1="87.45" y1="223.9" x2="91.35" y2="223.9" stroke="#333" stroke-width="0.6"/>
<rect x="88.85" y="223.65" width="1.1" height="1.1" fill="#111"/>
<text transform="translate(89.4 196.1) scale(0.1)" font-size="38" text-anchor="middle" fill="#222" stroke="#222" stroke-width="0.5">0.14</text>
<path d="M95.85 191.3V205.8M95.85 221.4V227.7M94.75 191.3h2.2M94.75 227.7h2.2" stroke="#5a5a5a" stroke-width="0.6" fill="none"/>
<rect x="93.9" y="205.8" width="3.9" height="15.6" fill="#fbc48c" stroke="#775935" stroke-width="0.7"/>
<line x1="93.9" y1="214.4" x2="97.8" y2="214.4" stroke="#333" stroke-width="0.6"/>
<rect x="95.3" y="214.15" width="1.1" height="1.1" fill="#111"/>
<text transform="translate(95.85 189.3) scale(0.1)" font-size="38" text-anchor="middle" fill="#222" stroke="#222" stroke-width="0.5">0.31</text>
<path d="M102.35 196.6V210.5M102.35 225.2V232M101.25 196.6h2.2M101.25 232h2.2" stroke="#5a5a5a" stroke-width="0.6" fill="none"/>
<rect x="100.4" y="210.5" width="3.9" height="14.7" fill="#7ab6f2" stroke="#395c82" stroke-width="0.7"/>
<line x1="100.4" y1="217.4" x2="104.3" y2="217.4" stroke="#333" stroke-width="0.6"/>
<rect x="101.8" y="217.15" width="1.1" height="1.1" fill="#111"/>
<text transform="translate(102.35 193.7) scale(0.1)" font-size="38" text-anchor="middle" fill="#222" stroke="#222" stroke-width="0.5">0.31</text>
<path d="M108.8 208.5V223.9M108.8 236.9V248.3M107.7 208.5h2.2M107.7 248.3h2.2" stroke="#5a5a5a" stroke-width="0.6" fill="none"/>
<rect x="106.85" y="223.9" width="3.9" height="13" fill="#d0b2e6" stroke="#6d5a82" stroke-width="0.7"/>
<line x1="106.85" y1="228.8" x2="110.75" y2="228.8" stroke="#333" stroke-width="0.6"/>
<rect x="108.25" y="228.55" width="1.1" height="1.1" fill="#111"/>
<text transform="translate(108.8 205.6) scale(0.1)" font-size="38" text-anchor="middle" fill="#222" stroke="#222" stroke-width="0.5">0.24</text>
<path d="M121.7 152.2V157.1M121.7 167.1V175.8M120.6 152.2h2.2M120.6 175.8h2.2" stroke="#5a5a5a" stroke-width="0.6" fill="none"/>
<rect x="119.75" y="157.1" width="3.9" height="10" fill="#72d98b" stroke="#2f6f42" stroke-width="0.7"/>
<line x1="119.75" y1="162.2" x2="123.65" y2="162.2" stroke="#333" stroke-width="0.6"/>
<rect x="121.15" y="161.95" width="1.1" height="1.1" fill="#111"/>
<text transform="translate(120.7 149.8) scale(0.1)" font-size="38" text-anchor="middle" fill="#222" stroke="#222" stroke-width="0.5">&lt;0.15</text>
<path d="M128.15 143.3V151.4M128.15 160.9V167.1M127.05 143.3h2.2M127.05 167.1h2.2" stroke="#5a5a5a" stroke-width="0.6" fill="none"/>
<rect x="126.2" y="151.4" width="3.9" height="9.5" fill="#fbc48c" stroke="#775935" stroke-width="0.7"/>
<line x1="126.2" y1="155.8" x2="130.1" y2="155.8" stroke="#333" stroke-width="0.6"/>
<rect x="127.6" y="155.55" width="1.1" height="1.1" fill="#111"/>
<text transform="translate(128.15 142) scale(0.1)" font-size="38" text-anchor="middle" fill="#222" stroke="#222" stroke-width="0.5">&lt;0.09</text>
<path d="M134.65 149.5V155.8M134.65 165.2V171.2M133.55 149.5h2.2M133.55 171.2h2.2" stroke="#5a5a5a" stroke-width="0.6" fill="none"/>
<rect x="132.7" y="155.8" width="3.9" height="9.4" fill="#7ab6f2" stroke="#395c82" stroke-width="0.7"/>
<line x1="132.7" y1="160.4" x2="136.6" y2="160.4" stroke="#333" stroke-width="0.6"/>
<rect x="134.1" y="160.15" width="1.1" height="1.1" fill="#111"/>
<text transform="translate(134.65 147.4) scale(0.1)" font-size="38" text-anchor="middle" fill="#222" stroke="#222" stroke-width="0.5">&lt;0.07</text>
<path d="M141.1 165.8V175.8M141.1 183.3V192M140 165.8h2.2M140 192h2.2" stroke="#5a5a5a" stroke-width="0.6" fill="none"/>
<rect x="139.15" y="175.8" width="3.9" height="7.5" fill="#d0b2e6" stroke="#6d5a82" stroke-width="0.7"/>
<line x1="139.15" y1="179.3" x2="143.05" y2="179.3" stroke="#333" stroke-width="0.6"/>
<rect x="140.55" y="179.05" width="1.1" height="1.1" fill="#111"/>
<circle cx="141.1" cy="200.1" r="0.85" fill="#111"/>
<text transform="translate(141.1 164.1) scale(0.1)" font-size="38" text-anchor="middle" fill="#222" stroke="#222" stroke-width="0.5">0.1</text>
<path d="M154 163V174.4M154 200.4V225.3M152.9 163h2.2M152.9 225.3h2.2" stroke="#5a5a5a" stroke-width="0.6" fill="none"/>
<rect x="152.05" y="174.4" width="3.9" height="26" fill="#72d98b" stroke="#2f6f42" stroke-width="0.7"/>
<line x1="152.05" y1="184.7" x2="155.95" y2="184.7" stroke="#333" stroke-width="0.6"/>
<rect x="153.45" y="188.25" width="1.1" height="1.1" fill="#111"/>
<text transform="translate(152.5 162) scale(0.1)" font-size="38" text-anchor="middle" fill="#222" stroke="#222" stroke-width="0.5">&lt;0.005</text>
<path d="M160.45 153V167.1M160.45 190.1V214.5M159.35 153h2.2M159.35 214.5h2.2" stroke="#5a5a5a" stroke-width="0.6" fill="none"/>
<rect x="158.5" y="167.1" width="3.9" height="23" fill="#fbc48c" stroke="#775935" stroke-width="0.7"/>
<line x1="158.5" y1="175.2" x2="162.4" y2="175.2" stroke="#333" stroke-width="0.6"/>
<rect x="159.9" y="178.15" width="1.1" height="1.1" fill="#111"/>
<text transform="translate(160.45 152) scale(0.1)" font-size="38" text-anchor="middle" fill="#222" stroke="#222" stroke-width="0.5">0.07</text>
<path d="M166.95 162.2V175.8M166.95 197.7V221.2M165.85 162.2h2.2M165.85 221.2h2.2" stroke="#5a5a5a" stroke-width="0.6" fill="none"/>
<rect x="165" y="175.8" width="3.9" height="21.9" fill="#7ab6f2" stroke="#395c82" stroke-width="0.7"/>
<line x1="165" y1="182.5" x2="168.9" y2="182.5" stroke="#333" stroke-width="0.6"/>
<rect x="166.4" y="186.05" width="1.1" height="1.1" fill="#111"/>
<text transform="translate(166.95 160.9) scale(0.1)" font-size="38" text-anchor="middle" fill="#222" stroke="#222" stroke-width="0.5">0.12</text>
<path d="M173.4 191.5V204.2M173.4 228.8V243.4M172.3 191.5h2.2M172.3 243.4h2.2" stroke="#5a5a5a" stroke-width="0.6" fill="none"/>
<rect x="171.45" y="204.2" width="3.9" height="24.6" fill="#d0b2e6" stroke="#6d5a82" stroke-width="0.7"/>
<line x1="171.45" y1="210.4" x2="175.35" y2="210.4" stroke="#333" stroke-width="0.6"/>
<rect x="172.85" y="215.85" width="1.1" height="1.1" fill="#111"/>
<text transform="translate(173.4 190.4) scale(0.1)" font-size="38" text-anchor="middle" fill="#222" stroke="#222" stroke-width="0.5">0.34</text>
<path d="M186.3 192V198.2M186.3 207.7V217.2M185.2 192h2.2M185.2 217.2h2.2" stroke="#5a5a5a" stroke-width="0.6" fill="none"/>
<rect x="184.35" y="198.2" width="3.9" height="9.5" fill="#72d98b" stroke="#2f6f42" stroke-width="0.7"/>
<line x1="184.35" y1="202.3" x2="188.25" y2="202.3" stroke="#333" stroke-width="0.6"/>
<rect x="185.75" y="202.05" width="1.1" height="1.1" fill="#111"/>
<circle cx="186.3" cy="221.2" r="0.85" fill="#111"/>
<text transform="translate(186.3 189.9) scale(0.1)" font-size="38" text-anchor="middle" fill="#222" stroke="#222" stroke-width="0.5">0.18</text>
<path d="M192.75 186.1V192.8M192.75 202.3V212.6M191.65 186.1h2.2M191.65 212.6h2.2" stroke="#5a5a5a" stroke-width="0.6" fill="none"/>
<rect x="190.8" y="192.8" width="3.9" height="9.5" fill="#fbc48c" stroke="#775935" stroke-width="0.7"/>
<line x1="190.8" y1="196.9" x2="194.7" y2="196.9" stroke="#333" stroke-width="0.6"/>
<rect x="192.2" y="196.65" width="1.1" height="1.1" fill="#111"/>
<circle cx="192.75" cy="215.8" r="0.85" fill="#111"/>
<text transform="translate(192.75 184.4) scale(0.1)" font-size="38" text-anchor="middle" fill="#222" stroke="#222" stroke-width="0.5">0.17</text>
<path d="M199.25 190.1V197.7M199.25 206.9V216.6M198.15 190.1h2.2M198.15 216.6h2.2" stroke="#5a5a5a" stroke-width="0.6" fill="none"/>
<rect x="197.3" y="197.7" width="3.9" height="9.2" fill="#7ab6f2" stroke="#395c82" stroke-width="0.7"/>
<line x1="197.3" y1="201.7" x2="201.2" y2="201.7" stroke="#333" stroke-width="0.6"/>
<rect x="198.7" y="201.45" width="1.1" height="1.1" fill="#111"/>
<text transform="translate(199.25 188.5) scale(0.1)" font-size="38" text-anchor="middle" fill="#222" stroke="#222" stroke-width="0.5">0.16</text>
<path d="M205.7 213.7V222.6M205.7 232V242.9M204.6 213.7h2.2M204.6 242.9h2.2" stroke="#5a5a5a" stroke-width="0.6" fill="none"/>
<rect x="203.75" y="222.6" width="3.9" height="9.4" fill="#d0b2e6" stroke="#6d5a82" stroke-width="0.7"/>
<line x1="203.75" y1="227.4" x2="207.65" y2="227.4" stroke="#333" stroke-width="0.6"/>
<rect x="205.15" y="227.15" width="1.1" height="1.1" fill="#111"/>
<text transform="translate(205.7 212.1) scale(0.1)" font-size="38" text-anchor="middle" fill="#222" stroke="#222" stroke-width="0.5">0.44</text>
<path d="M21.5 143.3V265.7H209.6" stroke="#383838" stroke-width="0.8" fill="none"/>
<path d="M21.5 143.5h-2M21.5 160.46h-2M21.5 177.42h-2M21.5 194.38h-2M21.5 211.34h-2M21.5 228.3h-2M21.5 245.26h-2M21.5 262.22h-2M21.5 151.98h-1.1M21.5 168.94h-1.1M21.5 185.9h-1.1M21.5 202.86h-1.1M21.5 219.82h-1.1M21.5 236.78h-1.1M21.5 253.74h-1.1M34.3 265.7v1.7M66.6 265.7v1.7M98.9 265.7v1.7M131.2 265.7v1.7M163.5 265.7v1.7M195.8 265.7v1.7" stroke="#333" stroke-width="0.7" fill="none"/>
<text transform="translate(18.3 145.2) scale(0.1)" font-size="49" text-anchor="end" fill="#222" stroke="#222" stroke-width="1.2">250</text>
<text transform="translate(18.3 162.16) scale(0.1)" font-size="49" text-anchor="end" fill="#222" stroke="#222" stroke-width="1.2">200</text>
<text transform="translate(18.3 179.12) scale(0.1)" font-size="49" text-anchor="end" fill="#222" stroke="#222" stroke-width="1.2">150</text>
<text transform="translate(18.3 196.08) scale(0.1)" font-size="49" text-anchor="end" fill="#222" stroke="#222" stroke-width="1.2">100</text>
<text transform="translate(18.3 213.04) scale(0.1)" font-size="49" text-anchor="end" fill="#222" stroke="#222" stroke-width="1.2">50</text>
<text transform="translate(18.3 230) scale(0.1)" font-size="49" text-anchor="end" fill="#222" stroke="#222" stroke-width="1.2">0</text>
<text transform="translate(18.3 246.96) scale(0.1)" font-size="49" text-anchor="end" fill="#222" stroke="#222" stroke-width="1.2">-50</text>
<text transform="translate(18.3 263.92) scale(0.1)" font-size="49" text-anchor="end" fill="#222" stroke="#222" stroke-width="1.2">-100</text>
<text transform="translate(24.9 144.5) scale(0.1)" font-size="53" text-anchor="start" fill="#111" stroke="#111" stroke-width="0.8">(c)</text>
<text transform="translate(33.8 144.9) scale(0.1)" font-size="63" text-anchor="start" fill="#111" stroke="#111" stroke-width="0.8">PRCPTOT</text>
<text transform="translate(7.6 195) rotate(-90) scale(0.1)" font-size="60" text-anchor="middle" fill="#111" stroke="#111" stroke-width="0.8">Bias mm</text>
<text transform="translate(34.7 272.2) scale(0.1)" font-size="61" text-anchor="middle" fill="#111" stroke="#111" stroke-width="0.8">CD</text>
<text transform="translate(66.7 272.2) scale(0.1)" font-size="61" text-anchor="middle" fill="#111" stroke="#111" stroke-width="0.8">NK</text>
<text transform="translate(98.7 272.2) scale(0.1)" font-size="61" text-anchor="middle" fill="#111" stroke="#111" stroke-width="0.8">NX</text>
<text transform="translate(130.7 272.2) scale(0.1)" font-size="61" text-anchor="middle" fill="#111" stroke="#111" stroke-width="0.8">SX</text>
<text transform="translate(162.7 272.2) scale(0.1)" font-size="61" text-anchor="middle" fill="#111" stroke="#111" stroke-width="0.8">TM</text>
<text transform="translate(194.7 272.2) scale(0.1)" font-size="61" text-anchor="middle" fill="#111" stroke="#111" stroke-width="0.8">ACA</text>
</g>
<g id="panel-d">
<line x1="231.5" y1="191.6" x2="419.6" y2="191.6" stroke="#555" stroke-width="0.65"/>
<path d="M235.1 191.8V198.8M235.1 208.8V221.4M234 191.8h2.2M234 221.4h2.2" stroke="#5a5a5a" stroke-width="0.6" fill="none"/>
<rect x="233.15" y="198.8" width="3.9" height="10" fill="#72d98b" stroke="#2f6f42" stroke-width="0.7"/>
<line x1="233.15" y1="204.3" x2="237.05" y2="204.3" stroke="#333" stroke-width="0.6"/>
<rect x="234.55" y="204.05" width="1.1" height="1.1" fill="#111"/>
<circle cx="235.1" cy="230.7" r="0.85" fill="#111"/>
<text transform="translate(235.1 189.8) scale(0.1)" font-size="38" text-anchor="middle" fill="#222" stroke="#222" stroke-width="0.5">0.11</text>
<path d="M241.55 187V191.8M241.55 201.8V214.4M240.45 187h2.2M240.45 214.4h2.2" stroke="#5a5a5a" stroke-width="0.6" fill="none"/>
<rect x="239.6" y="191.8" width="3.9" height="10" fill="#fbc48c" stroke="#775935" stroke-width="0.7"/>
<line x1="239.6" y1="198" x2="243.5" y2="198" stroke="#333" stroke-width="0.6"/>
<rect x="241" y="197.75" width="1.1" height="1.1" fill="#111"/>
<circle cx="241.55" cy="224.4" r="0.85" fill="#111"/>
<text transform="translate(241.55 185.3) scale(0.1)" font-size="38" text-anchor="middle" fill="#222" stroke="#222" stroke-width="0.5">0.12</text>
<path d="M248.05 182.5V191.8M248.05 201.8V214.4M246.95 182.5h2.2M246.95 214.4h2.2" stroke="#5a5a5a" stroke-width="0.6" fill="none"/>
<rect x="246.1" y="191.8" width="3.9" height="10" fill="#7ab6f2" stroke="#395c82" stroke-width="0.7"/>
<line x1="246.1" y1="197" x2="250" y2="197" stroke="#333" stroke-width="0.6"/>
<rect x="247.5" y="196.75" width="1.1" height="1.1" fill="#111"/>
<circle cx="248.05" cy="223.9" r="0.85" fill="#111"/>
<text transform="translate(248.05 180.3) scale(0.1)" font-size="38" text-anchor="middle" fill="#222" stroke="#222" stroke-width="0.5">0.11</text>
<path d="M254.5 185V188.7M254.5 200V208.3M253.4 185h2.2M253.4 208.3h2.2" stroke="#5a5a5a" stroke-width="0.6" fill="none"/>
<rect x="252.55" y="188.7" width="3.9" height="11.3" fill="#d0b2e6" stroke="#6d5a82" stroke-width="0.7"/>
<line x1="252.55" y1="195.5" x2="256.45" y2="195.5" stroke="#333" stroke-width="0.6"/>
<rect x="253.95" y="195.25" width="1.1" height="1.1" fill="#111"/>
<circle cx="254.5" cy="220.1" r="0.85" fill="#111"/>
<text transform="translate(254.5 183.1) scale(0.1)" font-size="38" text-anchor="middle" fill="#222" stroke="#222" stroke-width="0.5">0.24</text>
<path d="M267.45 191.8V203.8M267.45 213.9V224.7M266.35 191.8h2.2M266.35 224.7h2.2" stroke="#5a5a5a" stroke-width="0.6" fill="none"/>
<rect x="265.5" y="203.8" width="3.9" height="10.1" fill="#72d98b" stroke="#2f6f42" stroke-width="0.7"/>
<line x1="265.5" y1="208.8" x2="269.4" y2="208.8" stroke="#333" stroke-width="0.6"/>
<rect x="266.9" y="208.55" width="1.1" height="1.1" fill="#111"/>
<text transform="translate(267.45 189.8) scale(0.1)" font-size="38" text-anchor="middle" fill="#222" stroke="#222" stroke-width="0.5">0.35</text>
<path d="M273.9 186.2V197M273.9 207.1V217.6M272.8 186.2h2.2M272.8 217.6h2.2" stroke="#5a5a5a" stroke-width="0.6" fill="none"/>
<rect x="271.95" y="197" width="3.9" height="10.1" fill="#fbc48c" stroke="#775935" stroke-width="0.7"/>
<line x1="271.95" y1="201.3" x2="275.85" y2="201.3" stroke="#333" stroke-width="0.6"/>
<rect x="273.35" y="201.05" width="1.1" height="1.1" fill="#111"/>
<text transform="translate(273.9 184.3) scale(0.1)" font-size="38" text-anchor="middle" fill="#222" stroke="#222" stroke-width="0.5">0.39</text>
<path d="M280.4 185.7V196.3M280.4 206.8V217.6M279.3 185.7h2.2M279.3 217.6h2.2" stroke="#5a5a5a" stroke-width="0.6" fill="none"/>
<rect x="278.45" y="196.3" width="3.9" height="10.5" fill="#7ab6f2" stroke="#395c82" stroke-width="0.7"/>
<line x1="278.45" y1="200.8" x2="282.35" y2="200.8" stroke="#333" stroke-width="0.6"/>
<rect x="279.85" y="200.55" width="1.1" height="1.1" fill="#111"/>
<text transform="translate(280.4 180.3) scale(0.1)" font-size="38" text-anchor="middle" fill="#222" stroke="#222" stroke-width="0.5">0.42</text>
<path d="M286.85 183.7V191.8M286.85 198.8V205.8M285.75 183.7h2.2M285.75 205.8h2.2" stroke="#5a5a5a" stroke-width="0.6" fill="none"/>
<rect x="284.9" y="191.8" width="3.9" height="7" fill="#d0b2e6" stroke="#6d5a82" stroke-width="0.7"/>
<line x1="284.9" y1="195.5" x2="288.8" y2="195.5" stroke="#333" stroke-width="0.6"/>
<rect x="286.3" y="195.25" width="1.1" height="1.1" fill="#111"/>
<circle cx="286.85" cy="178" r="0.85" fill="#111"/>
<circle cx="286.85" cy="208.3" r="0.85" fill="#111"/>
<circle cx="286.85" cy="210.6" r="0.85" fill="#111"/>
<circle cx="286.85" cy="213.9" r="0.85" fill="#111"/>
<circle cx="286.85" cy="215.6" r="0.85" fill="#111"/>
<text transform="translate(286.85 183.1) scale(0.1)" font-size="38" text-anchor="middle" fill="#222" stroke="#222" stroke-width="0.5">0.35</text>
<path d="M299.8 196.3V205.1M299.8 217.6V223.9M298.7 196.3h2.2M298.7 223.9h2.2" stroke="#5a5a5a" stroke-width="0.6" fill="none"/>
<rect x="297.85" y="205.1" width="3.9" height="12.5" fill="#72d98b" stroke="#2f6f42" stroke-width="0.7"/>
<line x1="297.85" y1="212.6" x2="301.75" y2="212.6" stroke="#333" stroke-width="0.6"/>
<rect x="299.25" y="212.35" width="1.1" height="1.1" fill="#111"/>
<circle cx="299.8" cy="237.7" r="0.85" fill="#111"/>
<text transform="translate(299.8 194.9) scale(0.1)" font-size="38" text-anchor="middle" fill="#222" stroke="#222" stroke-width="0.5">0.23</text>
<path d="M306.25 187V196.8M306.25 208.1V215.9M305.15 187h2.2M305.15 215.9h2.2" stroke="#5a5a5a" stroke-width="0.6" fill="none"/>
<rect x="304.3" y="196.8" width="3.9" height="11.3" fill="#fbc48c" stroke="#775935" stroke-width="0.7"/>
<line x1="304.3" y1="203.3" x2="308.2" y2="203.3" stroke="#333" stroke-width="0.6"/>
<rect x="305.7" y="203.05" width="1.1" height="1.1" fill="#111"/>
<circle cx="306.25" cy="230.2" r="0.85" fill="#111"/>
<text transform="translate(306.25 185.3) scale(0.1)" font-size="38" text-anchor="middle" fill="#222" stroke="#222" stroke-width="0.5">0.33</text>
<path d="M312.75 185.5V194.6M312.75 206.6V214.2M311.65 185.5h2.2M311.65 214.2h2.2" stroke="#5a5a5a" stroke-width="0.6" fill="none"/>
<rect x="310.8" y="194.6" width="3.9" height="12" fill="#7ab6f2" stroke="#395c82" stroke-width="0.7"/>
<line x1="310.8" y1="201.8" x2="314.7" y2="201.8" stroke="#333" stroke-width="0.6"/>
<rect x="312.2" y="201.55" width="1.1" height="1.1" fill="#111"/>
<circle cx="312.75" cy="229.3" r="0.85" fill="#111"/>
<text transform="translate(312.75 182.4) scale(0.1)" font-size="38" text-anchor="middle" fill="#222" stroke="#222" stroke-width="0.5">0.31</text>
<path d="M319.2 185.5V196.9M319.2 207.7V214.5M318.1 185.5h2.2M318.1 214.5h2.2" stroke="#5a5a5a" stroke-width="0.6" fill="none"/>
<rect x="317.25" y="196.9" width="3.9" height="10.8" fill="#d0b2e6" stroke="#6d5a82" stroke-width="0.7"/>
<line x1="317.25" y1="202.3" x2="321.15" y2="202.3" stroke="#333" stroke-width="0.6"/>
<rect x="318.65" y="202.05" width="1.1" height="1.1" fill="#111"/>
<circle cx="319.2" cy="229.3" r="0.85" fill="#111"/>
<text transform="translate(319.2 183.1) scale(0.1)" font-size="38" text-anchor="middle" fill="#222" stroke="#222" stroke-width="0.5">0.22</text>
<path d="M332.15 171.2V176.6M332.15 185.5V192.8M331.05 171.2h2.2M331.05 192.8h2.2" stroke="#5a5a5a" stroke-width="0.6" fill="none"/>
<rect x="330.2" y="176.6" width="3.9" height="8.9" fill="#72d98b" stroke="#2f6f42" stroke-width="0.7"/>
<line x1="330.2" y1="179.3" x2="334.1" y2="179.3" stroke="#333" stroke-width="0.6"/>
<rect x="331.6" y="179.05" width="1.1" height="1.1" fill="#111"/>
<text transform="translate(330.65 169.6) scale(0.1)" font-size="38" text-anchor="middle" fill="#222" stroke="#222" stroke-width="0.5">&lt;0.09</text>
<path d="M338.6 160.4V165.2M338.6 175.2V182M337.5 160.4h2.2M337.5 182h2.2" stroke="#5a5a5a" stroke-width="0.6" fill="none"/>
<rect x="336.65" y="165.2" width="3.9" height="10" fill="#fbc48c" stroke="#775935" stroke-width="0.7"/>
<line x1="336.65" y1="169.8" x2="340.55" y2="169.8" stroke="#333" stroke-width="0.6"/>
<rect x="338.05" y="169.55" width="1.1" height="1.1" fill="#111"/>
<text transform="translate(337.6 159.3) scale(0.1)" font-size="38" text-anchor="middle" fill="#222" stroke="#222" stroke-width="0.5">&lt;0.17</text>
<path d="M345.1 159V163.9M345.1 173.9V180.6M344 159h2.2M344 180.6h2.2" stroke="#5a5a5a" stroke-width="0.6" fill="none"/>
<rect x="343.15" y="163.9" width="3.9" height="10" fill="#7ab6f2" stroke="#395c82" stroke-width="0.7"/>
<line x1="343.15" y1="167.9" x2="347.05" y2="167.9" stroke="#333" stroke-width="0.6"/>
<rect x="344.55" y="167.65" width="1.1" height="1.1" fill="#111"/>
<text transform="translate(345.1 156.6) scale(0.1)" font-size="38" text-anchor="middle" fill="#222" stroke="#222" stroke-width="0.5">&lt;0.21</text>
<path d="M351.55 163V167.9M351.55 175.8V179.3M350.45 163h2.2M350.45 179.3h2.2" stroke="#5a5a5a" stroke-width="0.6" fill="none"/>
<rect x="349.6" y="167.9" width="3.9" height="7.9" fill="#d0b2e6" stroke="#6d5a82" stroke-width="0.7"/>
<line x1="349.6" y1="170.6" x2="353.5" y2="170.6" stroke="#333" stroke-width="0.6"/>
<rect x="351" y="170.35" width="1.1" height="1.1" fill="#111"/>
<circle cx="351.55" cy="189.3" r="0.85" fill="#111"/>
<text transform="translate(351.55 160.6) scale(0.1)" font-size="38" text-anchor="middle" fill="#222" stroke="#222" stroke-width="0.5">0.28</text>
<path d="M364.5 180.6V195.5M364.5 221.8V247.5M363.4 180.6h2.2M363.4 247.5h2.2" stroke="#5a5a5a" stroke-width="0.6" fill="none"/>
<rect x="362.55" y="195.5" width="3.9" height="26.3" fill="#72d98b" stroke="#2f6f42" stroke-width="0.7"/>
<line x1="362.55" y1="203.6" x2="366.45" y2="203.6" stroke="#333" stroke-width="0.6"/>
<rect x="363.95" y="208.45" width="1.1" height="1.1" fill="#111"/>
<text transform="translate(364.5 178.5) scale(0.1)" font-size="38" text-anchor="middle" fill="#222" stroke="#222" stroke-width="0.5">0.23</text>
<path d="M370.95 164.4V177.9M370.95 203.1V231.2M369.85 164.4h2.2M369.85 231.2h2.2" stroke="#5a5a5a" stroke-width="0.6" fill="none"/>
<rect x="369" y="177.9" width="3.9" height="25.2" fill="#fbc48c" stroke="#775935" stroke-width="0.7"/>
<line x1="369" y1="186.6" x2="372.9" y2="186.6" stroke="#333" stroke-width="0.6"/>
<rect x="370.4" y="191.45" width="1.1" height="1.1" fill="#111"/>
<text transform="translate(370.95 162.8) scale(0.1)" font-size="38" text-anchor="middle" fill="#222" stroke="#222" stroke-width="0.5">0.27</text>
<path d="M377.45 157.1V174.4M377.45 200.9V228M376.35 157.1h2.2M376.35 228h2.2" stroke="#5a5a5a" stroke-width="0.6" fill="none"/>
<rect x="375.5" y="174.4" width="3.9" height="26.5" fill="#7ab6f2" stroke="#395c82" stroke-width="0.7"/>
<line x1="375.5" y1="188.8" x2="379.4" y2="188.8" stroke="#333" stroke-width="0.6"/>
<rect x="376.9" y="188.55" width="1.1" height="1.1" fill="#111"/>
<text transform="translate(377.45 155.5) scale(0.1)" font-size="38" text-anchor="middle" fill="#222" stroke="#222" stroke-width="0.5">0.28</text>
<path d="M383.9 159.5V169.8M383.9 189.3V212.6M382.8 159.5h2.2M382.8 212.6h2.2" stroke="#5a5a5a" stroke-width="0.6" fill="none"/>
<rect x="381.95" y="169.8" width="3.9" height="19.5" fill="#d0b2e6" stroke="#6d5a82" stroke-width="0.7"/>
<line x1="381.95" y1="179.3" x2="385.85" y2="179.3" stroke="#333" stroke-width="0.6"/>
<rect x="383.35" y="181.95" width="1.1" height="1.1" fill="#111"/>
<circle cx="383.9" cy="219.1" r="0.85" fill="#111"/>
<circle cx="383.9" cy="232" r="0.85" fill="#111"/>
<text transform="translate(383.9 157.9) scale(0.1)" font-size="38" text-anchor="middle" fill="#222" stroke="#222" stroke-width="0.5">0.44</text>
<path d="M396.85 190.1V198.2M396.85 209V222.6M395.75 190.1h2.2M395.75 222.6h2.2" stroke="#5a5a5a" stroke-width="0.6" fill="none"/>
<rect x="394.9" y="198.2" width="3.9" height="10.8" fill="#72d98b" stroke="#2f6f42" stroke-width="0.7"/>
<line x1="394.9" y1="203.1" x2="398.8" y2="203.1" stroke="#333" stroke-width="0.6"/>
<rect x="396.3" y="202.85" width="1.1" height="1.1" fill="#111"/>
<text transform="translate(396.85 189.3) scale(0.1)" font-size="38" text-anchor="middle" fill="#222" stroke="#222" stroke-width="0.5">0.2</text>
<path d="M403.3 182V190.7M403.3 199.6V210.4M402.2 182h2.2M402.2 210.4h2.2" stroke="#5a5a5a" stroke-width="0.6" fill="none"/>
<rect x="401.35" y="190.7" width="3.9" height="8.9" fill="#fbc48c" stroke="#775935" stroke-width="0.7"/>
<line x1="401.35" y1="194.2" x2="405.25" y2="194.2" stroke="#333" stroke-width="0.6"/>
<rect x="402.75" y="193.95" width="1.1" height="1.1" fill="#111"/>
<circle cx="403.3" cy="213.1" r="0.85" fill="#111"/>
<text transform="translate(403.3 180.4) scale(0.1)" font-size="38" text-anchor="middle" fill="#222" stroke="#222" stroke-width="0.5">0.22</text>
<path d="M409.8 180.6V189.3M409.8 198.8V212.3M408.7 180.6h2.2M408.7 212.3h2.2" stroke="#5a5a5a" stroke-width="0.6" fill="none"/>
<rect x="407.85" y="189.3" width="3.9" height="9.5" fill="#7ab6f2" stroke="#395c82" stroke-width="0.7"/>
<line x1="407.85" y1="193.4" x2="411.75" y2="193.4" stroke="#333" stroke-width="0.6"/>
<rect x="409.25" y="193.15" width="1.1" height="1.1" fill="#111"/>
<text transform="translate(409.8 176.9) scale(0.1)" font-size="38" text-anchor="middle" fill="#222" stroke="#222" stroke-width="0.5">0.24</text>
<path d="M416.25 182V187.4M416.25 196.3V209M415.15 182h2.2M415.15 209h2.2" stroke="#5a5a5a" stroke-width="0.6" fill="none"/>
<rect x="414.3" y="187.4" width="3.9" height="8.9" fill="#d0b2e6" stroke="#6d5a82" stroke-width="0.7"/>
<line x1="414.3" y1="191.5" x2="418.2" y2="191.5" stroke="#333" stroke-width="0.6"/>
<rect x="415.7" y="191.25" width="1.1" height="1.1" fill="#111"/>
<text transform="translate(416.25 180.4) scale(0.1)" font-size="38" text-anchor="middle" fill="#222" stroke="#222" stroke-width="0.5">0.56</text>
<path d="M231.5 141.6V266.1H419.6" stroke="#383838" stroke-width="0.8" fill="none"/>
<path d="M231.5 141.8h-2M231.5 166.66h-2M231.5 191.52h-2M231.5 216.38h-2M231.5 241.24h-2M231.5 266.1h-2M231.5 154.23h-1.1M231.5 179.09h-1.1M231.5 203.95h-1.1M231.5 228.81h-1.1M231.5 253.67h-1.1M244.6 266.1v1.7M276.95 266.1v1.7M309.3 266.1v1.7M341.65 266.1v1.7M374 266.1v1.7M406.35 266.1v1.7" stroke="#333" stroke-width="0.7" fill="none"/>
<text transform="translate(228.3 143.5) scale(0.1)" font-size="49" text-anchor="end" fill="#222" stroke="#222" stroke-width="1.2">4</text>
<text transform="translate(228.3 168.36) scale(0.1)" font-size="49" text-anchor="end" fill="#222" stroke="#222" stroke-width="1.2">2</text>
<text transform="translate(228.3 193.22) scale(0.1)" font-size="49" text-anchor="end" fill="#222" stroke="#222" stroke-width="1.2">0</text>
<text transform="translate(228.3 218.08) scale(0.1)" font-size="49" text-anchor="end" fill="#222" stroke="#222" stroke-width="1.2">-2</text>
<text transform="translate(228.3 242.94) scale(0.1)" font-size="49" text-anchor="end" fill="#222" stroke="#222" stroke-width="1.2">-4</text>
<text transform="translate(228.3 267.8) scale(0.1)" font-size="49" text-anchor="end" fill="#222" stroke="#222" stroke-width="1.2">-6</text>
<text transform="translate(235.2 144) scale(0.1)" font-size="56" text-anchor="start" fill="#111" stroke="#111" stroke-width="0.8">(d)</text>
<text transform="translate(244.1 144.4) scale(0.1)" font-size="64" text-anchor="start" fill="#111" stroke="#111" stroke-width="0.8">R10mm</text>
<text transform="translate(224.4 195) rotate(-90) scale(0.1)" font-size="60" text-anchor="middle" fill="#111" stroke="#111" stroke-width="0.8">Bias days</text>
<text transform="translate(245 272.2) scale(0.1)" font-size="61" text-anchor="middle" fill="#111" stroke="#111" stroke-width="0.8">CD</text>
<text transform="translate(277.05 272.2) scale(0.1)" font-size="61" text-anchor="middle" fill="#111" stroke="#111" stroke-width="0.8">NK</text>
<text transform="translate(309.1 272.2) scale(0.1)" font-size="61" text-anchor="middle" fill="#111" stroke="#111" stroke-width="0.8">NX</text>
<text transform="translate(341.15 272.2) scale(0.1)" font-size="61" text-anchor="middle" fill="#111" stroke="#111" stroke-width="0.8">SX</text>
<text transform="translate(373.2 272.2) scale(0.1)" font-size="61" text-anchor="middle" fill="#111" stroke="#111" stroke-width="0.8">TM</text>
<text transform="translate(405.25 272.2) scale(0.1)" font-size="61" text-anchor="middle" fill="#111" stroke="#111" stroke-width="0.8">ACA</text>
</g>
<g id="panel-e">
<line x1="21.5" y1="349.5" x2="209.6" y2="349.5" stroke="#4a4a4a" stroke-width="0.65"/>
<path d="M24.8 321V326M24.8 340.3V358.7M23.7 321h2.2M23.7 358.7h2.2" stroke="#5a5a5a" stroke-width="0.6" fill="none"/>
<rect x="22.85" y="326" width="3.9" height="14.3" fill="#72d98b" stroke="#2f6f42" stroke-width="0.7"/>
<line x1="22.85" y1="332.2" x2="26.75" y2="332.2" stroke="#333" stroke-width="0.6"/>
<rect x="24.25" y="334.25" width="1.1" height="1.1" fill="#111"/>
<circle cx="24.8" cy="371.7" r="0.85" fill="#111"/>
<text transform="translate(24.8 319.1) scale(0.1)" font-size="38" text-anchor="middle" fill="#222" stroke="#222" stroke-width="0.5">0.28</text>
<path d="M31.25 316.5V322.2M31.25 334.8V346.6M30.15 316.5h2.2M30.15 346.6h2.2" stroke="#5a5a5a" stroke-width="0.6" fill="none"/>
<rect x="29.3" y="322.2" width="3.9" height="12.6" fill="#fbc48c" stroke="#775935" stroke-width="0.7"/>
<line x1="29.3" y1="330.3" x2="33.2" y2="330.3" stroke="#333" stroke-width="0.6"/>
<rect x="30.7" y="330.05" width="1.1" height="1.1" fill="#111"/>
<circle cx="31.25" cy="354.1" r="0.85" fill="#111"/>
<circle cx="31.25" cy="367.4" r="0.85" fill="#111"/>
<text transform="translate(31.25 314.5) scale(0.1)" font-size="38" text-anchor="middle" fill="#222" stroke="#222" stroke-width="0.5">0.21</text>
<path d="M37.75 319.7V324.2M37.75 337.8V357.4M36.65 319.7h2.2M36.65 357.4h2.2" stroke="#5a5a5a" stroke-width="0.6" fill="none"/>
<rect x="35.8" y="324.2" width="3.9" height="13.6" fill="#7ab6f2" stroke="#395c82" stroke-width="0.7"/>
<line x1="35.8" y1="332.3" x2="39.7" y2="332.3" stroke="#333" stroke-width="0.6"/>
<rect x="37.2" y="332.05" width="1.1" height="1.1" fill="#111"/>
<circle cx="37.75" cy="369.5" r="0.85" fill="#111"/>
<text transform="translate(37.75 317.8) scale(0.1)" font-size="38" text-anchor="middle" fill="#222" stroke="#222" stroke-width="0.5">0.20</text>
<path d="M44.2 326V340.3M44.2 354.9V368.7M43.1 326h2.2M43.1 368.7h2.2" stroke="#5a5a5a" stroke-width="0.6" fill="none"/>
<rect x="42.25" y="340.3" width="3.9" height="14.6" fill="#d0b2e6" stroke="#6d5a82" stroke-width="0.7"/>
<line x1="42.25" y1="348.1" x2="46.15" y2="348.1" stroke="#333" stroke-width="0.6"/>
<rect x="43.65" y="347.85" width="1.1" height="1.1" fill="#111"/>
<circle cx="44.2" cy="382" r="0.85" fill="#111"/>
<text transform="translate(44.2 325.1) scale(0.1)" font-size="38" text-anchor="middle" fill="#222" stroke="#222" stroke-width="0.5">0.28</text>
<path d="M57.1 314.7V330.3M57.1 341.1V355.4M56 314.7h2.2M56 355.4h2.2" stroke="#5a5a5a" stroke-width="0.6" fill="none"/>
<rect x="55.15" y="330.3" width="3.9" height="10.8" fill="#72d98b" stroke="#2f6f42" stroke-width="0.7"/>
<line x1="55.15" y1="332.2" x2="59.05" y2="332.2" stroke="#333" stroke-width="0.6"/>
<rect x="56.55" y="334.35" width="1.1" height="1.1" fill="#111"/>
<circle cx="57.1" cy="311.4" r="0.85" fill="#111"/>
<text transform="translate(57.1 309) scale(0.1)" font-size="38" text-anchor="middle" fill="#222" stroke="#222" stroke-width="0.5">0.47</text>
<path d="M63.55 316.5V325.5M63.55 336.8V351.9M62.45 316.5h2.2M62.45 351.9h2.2" stroke="#5a5a5a" stroke-width="0.6" fill="none"/>
<rect x="61.6" y="325.5" width="3.9" height="11.3" fill="#fbc48c" stroke="#775935" stroke-width="0.7"/>
<line x1="61.6" y1="329.8" x2="65.5" y2="329.8" stroke="#333" stroke-width="0.6"/>
<rect x="63" y="329.55" width="1.1" height="1.1" fill="#111"/>
<circle cx="63.55" cy="307.9" r="0.85" fill="#111"/>
<text transform="translate(63.55 313.3) scale(0.1)" font-size="38" text-anchor="middle" fill="#222" stroke="#222" stroke-width="0.5">0.41</text>
<path d="M70.05 320.2V329M70.05 339.8V354.9M68.95 320.2h2.2M68.95 354.9h2.2" stroke="#5a5a5a" stroke-width="0.6" fill="none"/>
<rect x="68.1" y="329" width="3.9" height="10.8" fill="#7ab6f2" stroke="#395c82" stroke-width="0.7"/>
<line x1="68.1" y1="333.5" x2="72" y2="333.5" stroke="#333" stroke-width="0.6"/>
<rect x="69.5" y="333.25" width="1.1" height="1.1" fill="#111"/>
<circle cx="70.05" cy="310.2" r="0.85" fill="#111"/>
<circle cx="70.05" cy="311.7" r="0.85" fill="#111"/>
<text transform="translate(70.05 317.6) scale(0.1)" font-size="38" text-anchor="middle" fill="#222" stroke="#222" stroke-width="0.5">0.38</text>
<path d="M76.5 336V351.9M76.5 365.7V379.5M75.4 336h2.2M75.4 379.5h2.2" stroke="#5a5a5a" stroke-width="0.6" fill="none"/>
<rect x="74.55" y="351.9" width="3.9" height="13.8" fill="#d0b2e6" stroke="#6d5a82" stroke-width="0.7"/>
<line x1="74.55" y1="357.4" x2="78.45" y2="357.4" stroke="#333" stroke-width="0.6"/>
<rect x="75.95" y="357.15" width="1.1" height="1.1" fill="#111"/>
<text transform="translate(76.5 334.1) scale(0.1)" font-size="38" text-anchor="middle" fill="#222" stroke="#222" stroke-width="0.5">0.47</text>
<path d="M89.4 320.2V340.3M89.4 357.4V366.7M88.3 320.2h2.2M88.3 366.7h2.2" stroke="#5a5a5a" stroke-width="0.6" fill="none"/>
<rect x="87.45" y="340.3" width="3.9" height="17.1" fill="#72d98b" stroke="#2f6f42" stroke-width="0.7"/>
<line x1="87.45" y1="351.4" x2="91.35" y2="351.4" stroke="#333" stroke-width="0.6"/>
<rect x="88.85" y="348.45" width="1.1" height="1.1" fill="#111"/>
<circle cx="89.4" cy="384.3" r="0.85" fill="#111"/>
<text transform="translate(89.4 318.3) scale(0.1)" font-size="38" text-anchor="middle" fill="#222" stroke="#222" stroke-width="0.5">0.43</text>
<path d="M95.85 316.5V333M95.85 351.9V378.2M94.75 316.5h2.2M94.75 378.2h2.2" stroke="#5a5a5a" stroke-width="0.6" fill="none"/>
<rect x="93.9" y="333" width="3.9" height="18.9" fill="#fbc48c" stroke="#775935" stroke-width="0.7"/>
<line x1="93.9" y1="345" x2="97.8" y2="345" stroke="#333" stroke-width="0.6"/>
<rect x="95.3" y="342.05" width="1.1" height="1.1" fill="#111"/>
<text transform="translate(95.85 314.5) scale(0.1)" font-size="38" text-anchor="middle" fill="#222" stroke="#222" stroke-width="0.5">0.42</text>
<path d="M102.35 321.2V336.5M102.35 354.2V380.3M101.25 321.2h2.2M101.25 380.3h2.2" stroke="#5a5a5a" stroke-width="0.6" fill="none"/>
<rect x="100.4" y="336.5" width="3.9" height="17.7" fill="#7ab6f2" stroke="#395c82" stroke-width="0.7"/>
<line x1="100.4" y1="348" x2="104.3" y2="348" stroke="#333" stroke-width="0.6"/>
<rect x="101.8" y="345.15" width="1.1" height="1.1" fill="#111"/>
<text transform="translate(102.35 319.3) scale(0.1)" font-size="38" text-anchor="middle" fill="#222" stroke="#222" stroke-width="0.5">0.43</text>
<path d="M108.8 330.7V349.1M108.8 368V395.6M107.7 330.7h2.2M107.7 395.6h2.2" stroke="#5a5a5a" stroke-width="0.6" fill="none"/>
<rect x="106.85" y="349.1" width="3.9" height="18.9" fill="#d0b2e6" stroke="#6d5a82" stroke-width="0.7"/>
<line x1="106.85" y1="358.6" x2="110.75" y2="358.6" stroke="#333" stroke-width="0.6"/>
<rect x="108.25" y="358.35" width="1.1" height="1.1" fill="#111"/>
<circle cx="108.8" cy="318.5" r="0.85" fill="#111"/>
<text transform="translate(108.8 329.4) scale(0.1)" font-size="38" text-anchor="middle" fill="#222" stroke="#222" stroke-width="0.5">0.06</text>
<path d="M121.7 287.4V295.8M121.7 312.6V325.3M120.6 287.4h2.2M120.6 325.3h2.2" stroke="#5a5a5a" stroke-width="0.6" fill="none"/>
<rect x="119.75" y="295.8" width="3.9" height="16.8" fill="#72d98b" stroke="#2f6f42" stroke-width="0.7"/>
<line x1="119.75" y1="304.5" x2="123.65" y2="304.5" stroke="#333" stroke-width="0.6"/>
<rect x="121.15" y="304.25" width="1.1" height="1.1" fill="#111"/>
<text transform="translate(120.7 285.8) scale(0.1)" font-size="38" text-anchor="middle" fill="#222" stroke="#222" stroke-width="0.5">&lt;0.18</text>
<path d="M128.15 279.6V289M128.15 306.4V317.5M127.05 279.6h2.2M127.05 317.5h2.2" stroke="#5a5a5a" stroke-width="0.6" fill="none"/>
<rect x="126.2" y="289" width="3.9" height="17.4" fill="#fbc48c" stroke="#775935" stroke-width="0.7"/>
<line x1="126.2" y1="298.2" x2="130.1" y2="298.2" stroke="#333" stroke-width="0.6"/>
<rect x="127.6" y="297.95" width="1.1" height="1.1" fill="#111"/>
<text transform="translate(128.15 277.1) scale(0.1)" font-size="38" text-anchor="middle" fill="#222" stroke="#222" stroke-width="0.5">&lt;0.16</text>
<path d="M134.65 283.6V292.8M134.65 310.4V322M133.55 283.6h2.2M133.55 322h2.2" stroke="#5a5a5a" stroke-width="0.6" fill="none"/>
<rect x="132.7" y="292.8" width="3.9" height="17.6" fill="#7ab6f2" stroke="#395c82" stroke-width="0.7"/>
<line x1="132.7" y1="301.8" x2="136.6" y2="301.8" stroke="#333" stroke-width="0.6"/>
<rect x="134.1" y="301.55" width="1.1" height="1.1" fill="#111"/>
<text transform="translate(134.65 282.6) scale(0.1)" font-size="38" text-anchor="middle" fill="#222" stroke="#222" stroke-width="0.5">&lt;0.16</text>
<path d="M141.1 301.2V313.4M141.1 326.1V336.9M140 301.2h2.2M140 336.9h2.2" stroke="#5a5a5a" stroke-width="0.6" fill="none"/>
<rect x="139.15" y="313.4" width="3.9" height="12.7" fill="#d0b2e6" stroke="#6d5a82" stroke-width="0.7"/>
<line x1="139.15" y1="318.5" x2="143.05" y2="318.5" stroke="#333" stroke-width="0.6"/>
<rect x="140.55" y="318.25" width="1.1" height="1.1" fill="#111"/>
<circle cx="141.1" cy="292.3" r="0.85" fill="#111"/>
<circle cx="141.1" cy="346.4" r="0.85" fill="#111"/>
<text transform="translate(141.1 299.6) scale(0.1)" font-size="38" text-anchor="middle" fill="#222" stroke="#222" stroke-width="0.5">&lt;0.08</text>
<path d="M154 301.8V310.7M154 338.3V376.7M152.9 301.8h2.2M152.9 376.7h2.2" stroke="#5a5a5a" stroke-width="0.6" fill="none"/>
<rect x="152.05" y="310.7" width="3.9" height="27.6" fill="#72d98b" stroke="#2f6f42" stroke-width="0.7"/>
<line x1="152.05" y1="320.7" x2="155.95" y2="320.7" stroke="#333" stroke-width="0.6"/>
<rect x="153.45" y="326.45" width="1.1" height="1.1" fill="#111"/>
<text transform="translate(154 301) scale(0.1)" font-size="38" text-anchor="middle" fill="#222" stroke="#222" stroke-width="0.5">0.31</text>
<path d="M160.45 291.8V303.9M160.45 332.3V350.5M159.35 291.8h2.2M159.35 350.5h2.2" stroke="#5a5a5a" stroke-width="0.6" fill="none"/>
<rect x="158.5" y="303.9" width="3.9" height="28.4" fill="#fbc48c" stroke="#775935" stroke-width="0.7"/>
<line x1="158.5" y1="313.1" x2="162.4" y2="313.1" stroke="#333" stroke-width="0.6"/>
<rect x="159.9" y="317.45" width="1.1" height="1.1" fill="#111"/>
<circle cx="160.45" cy="366.2" r="0.85" fill="#111"/>
<text transform="translate(160.45 290.7) scale(0.1)" font-size="38" text-anchor="middle" fill="#222" stroke="#222" stroke-width="0.5">0.38</text>
<path d="M166.95 298.2V307.7M166.95 332.9V354.5M165.85 298.2h2.2M165.85 354.5h2.2" stroke="#5a5a5a" stroke-width="0.6" fill="none"/>
<rect x="165" y="307.7" width="3.9" height="25.2" fill="#7ab6f2" stroke="#395c82" stroke-width="0.7"/>
<line x1="165" y1="315.8" x2="168.9" y2="315.8" stroke="#333" stroke-width="0.6"/>
<rect x="166.4" y="322.05" width="1.1" height="1.1" fill="#111"/>
<circle cx="166.95" cy="372.9" r="0.85" fill="#111"/>
<text transform="translate(166.95 297.1) scale(0.1)" font-size="38" text-anchor="middle" fill="#222" stroke="#222" stroke-width="0.5">0.39</text>
<path d="M173.4 312.6V328.8M173.4 364V397M172.3 312.6h2.2M172.3 397h2.2" stroke="#5a5a5a" stroke-width="0.6" fill="none"/>
<rect x="171.45" y="328.8" width="3.9" height="35.2" fill="#d0b2e6" stroke="#6d5a82" stroke-width="0.7"/>
<line x1="171.45" y1="340.2" x2="175.35" y2="340.2" stroke="#333" stroke-width="0.6"/>
<rect x="172.85" y="343.95" width="1.1" height="1.1" fill="#111"/>
<text transform="translate(173.4 311.8) scale(0.1)" font-size="38" text-anchor="middle" fill="#222" stroke="#222" stroke-width="0.5">0.21</text>
<path d="M186.3 316.1V322.1M186.3 333.7V346.4M185.2 316.1h2.2M185.2 346.4h2.2" stroke="#5a5a5a" stroke-width="0.6" fill="none"/>
<rect x="184.35" y="322.1" width="3.9" height="11.6" fill="#72d98b" stroke="#2f6f42" stroke-width="0.7"/>
<line x1="184.35" y1="328.8" x2="188.25" y2="328.8" stroke="#333" stroke-width="0.6"/>
<rect x="185.75" y="328.55" width="1.1" height="1.1" fill="#111"/>
<circle cx="186.3" cy="350.5" r="0.85" fill="#111"/>
<circle cx="186.3" cy="352.6" r="0.85" fill="#111"/>
<text transform="translate(186.3 314.2) scale(0.1)" font-size="38" text-anchor="middle" fill="#222" stroke="#222" stroke-width="0.5">0.34</text>
<path d="M192.75 310.4V317.2M192.75 328.3V344.2M191.65 310.4h2.2M191.65 344.2h2.2" stroke="#5a5a5a" stroke-width="0.6" fill="none"/>
<rect x="190.8" y="317.2" width="3.9" height="11.1" fill="#fbc48c" stroke="#775935" stroke-width="0.7"/>
<line x1="190.8" y1="323.4" x2="194.7" y2="323.4" stroke="#333" stroke-width="0.6"/>
<rect x="192.2" y="323.15" width="1.1" height="1.1" fill="#111"/>
<circle cx="192.75" cy="348.6" r="0.85" fill="#111"/>
<text transform="translate(192.75 308.3) scale(0.1)" font-size="38" text-anchor="middle" fill="#222" stroke="#222" stroke-width="0.5">0.30</text>
<path d="M199.25 313.9V320.2M199.25 331V345M198.15 313.9h2.2M198.15 345h2.2" stroke="#5a5a5a" stroke-width="0.6" fill="none"/>
<rect x="197.3" y="320.2" width="3.9" height="10.8" fill="#7ab6f2" stroke="#395c82" stroke-width="0.7"/>
<line x1="197.3" y1="326.9" x2="201.2" y2="326.9" stroke="#333" stroke-width="0.6"/>
<rect x="198.7" y="326.65" width="1.1" height="1.1" fill="#111"/>
<circle cx="199.25" cy="348.6" r="0.85" fill="#111"/>
<circle cx="199.25" cy="351" r="0.85" fill="#111"/>
<text transform="translate(199.25 311.8) scale(0.1)" font-size="38" text-anchor="middle" fill="#222" stroke="#222" stroke-width="0.5">0.29</text>
<path d="M205.7 332.9V339.6M205.7 354V365.3M204.6 332.9h2.2M204.6 365.3h2.2" stroke="#5a5a5a" stroke-width="0.6" fill="none"/>
<rect x="203.75" y="339.6" width="3.9" height="14.4" fill="#d0b2e6" stroke="#6d5a82" stroke-width="0.7"/>
<line x1="203.75" y1="347.2" x2="207.65" y2="347.2" stroke="#333" stroke-width="0.6"/>
<rect x="205.15" y="346.95" width="1.1" height="1.1" fill="#111"/>
<text transform="translate(205.7 331.3) scale(0.1)" font-size="38" text-anchor="middle" fill="#222" stroke="#222" stroke-width="0.5">0.40</text>
<path d="M21.5 278V401.3H209.6" stroke="#383838" stroke-width="0.8" fill="none"/>
<path d="M21.5 278.3h-2M21.5 290.16h-2M21.5 302.02h-2M21.5 313.88h-2M21.5 325.74h-2M21.5 337.6h-2M21.5 349.46h-2M21.5 361.32h-2M21.5 373.18h-2M21.5 385.04h-2M21.5 396.9h-2M21.5 284.23h-1.1M21.5 296.09h-1.1M21.5 307.95h-1.1M21.5 319.81h-1.1M21.5 331.67h-1.1M21.5 343.53h-1.1M21.5 355.39h-1.1M21.5 367.25h-1.1M21.5 379.11h-1.1M21.5 390.97h-1.1M34.3 401.3v1.7M66.6 401.3v1.7M98.9 401.3v1.7M131.2 401.3v1.7M163.5 401.3v1.7M195.8 401.3v1.7" stroke="#333" stroke-width="0.7" fill="none"/>
<text transform="translate(18.3 280) scale(0.1)" font-size="49" text-anchor="end" fill="#222" stroke="#222" stroke-width="1.2">90</text>
<text transform="translate(18.3 291.86) scale(0.1)" font-size="49" text-anchor="end" fill="#222" stroke="#222" stroke-width="1.2">75</text>
<text transform="translate(18.3 303.72) scale(0.1)" font-size="49" text-anchor="end" fill="#222" stroke="#222" stroke-width="1.2">60</text>
<text transform="translate(18.3 315.58) scale(0.1)" font-size="49" text-anchor="end" fill="#222" stroke="#222" stroke-width="1.2">45</text>
<text transform="translate(18.3 327.44) scale(0.1)" font-size="49" text-anchor="end" fill="#222" stroke="#222" stroke-width="1.2">30</text>
<text transform="translate(18.3 339.3) scale(0.1)" font-size="49" text-anchor="end" fill="#222" stroke="#222" stroke-width="1.2">15</text>
<text transform="translate(18.3 351.16) scale(0.1)" font-size="49" text-anchor="end" fill="#222" stroke="#222" stroke-width="1.2">0</text>
<text transform="translate(18.3 363.02) scale(0.1)" font-size="49" text-anchor="end" fill="#222" stroke="#222" stroke-width="1.2">-15</text>
<text transform="translate(18.3 374.88) scale(0.1)" font-size="49" text-anchor="end" fill="#222" stroke="#222" stroke-width="1.2">-30</text>
<text transform="translate(18.3 386.74) scale(0.1)" font-size="49" text-anchor="end" fill="#222" stroke="#222" stroke-width="1.2">-45</text>
<text transform="translate(18.3 398.6) scale(0.1)" font-size="49" text-anchor="end" fill="#222" stroke="#222" stroke-width="1.2">-60</text>
<text transform="translate(24.9 279.4) scale(0.1)" font-size="56" text-anchor="start" fill="#111" stroke="#111" stroke-width="0.8">(e)</text>
<text transform="translate(34.1 279.8) scale(0.1)" font-size="63" text-anchor="start" fill="#111" stroke="#111" stroke-width="0.8">R95pTOT</text>
<text transform="translate(10.8 330.8) rotate(-90) scale(0.1)" font-size="60" text-anchor="middle" fill="#111" stroke="#111" stroke-width="0.8">Bias mm</text>
<text transform="translate(34.7 408.2) scale(0.1)" font-size="61" text-anchor="middle" fill="#111" stroke="#111" stroke-width="0.8">CD</text>
<text transform="translate(66.7 408.2) scale(0.1)" font-size="61" text-anchor="middle" fill="#111" stroke="#111" stroke-width="0.8">NK</text>
<text transform="translate(98.7 408.2) scale(0.1)" font-size="61" text-anchor="middle" fill="#111" stroke="#111" stroke-width="0.8">NX</text>
<text transform="translate(130.7 408.2) scale(0.1)" font-size="61" text-anchor="middle" fill="#111" stroke="#111" stroke-width="0.8">SX</text>
<text transform="translate(162.7 408.2) scale(0.1)" font-size="61" text-anchor="middle" fill="#111" stroke="#111" stroke-width="0.8">TM</text>
<text transform="translate(194.7 408.2) scale(0.1)" font-size="61" text-anchor="middle" fill="#111" stroke="#111" stroke-width="0.8">ACA</text>
</g>
<g id="panel-f">
<line x1="231.5" y1="318.4" x2="419.6" y2="318.4" stroke="#777" stroke-width="0.65"/>
<path d="M235.1 318.5V328M235.1 337.3V346.6M234 318.5h2.2M234 346.6h2.2" stroke="#5a5a5a" stroke-width="0.6" fill="none"/>
<rect x="233.15" y="328" width="3.9" height="9.3" fill="#72d98b" stroke="#2f6f42" stroke-width="0.7"/>
<line x1="233.15" y1="333" x2="237.05" y2="333" stroke="#333" stroke-width="0.6"/>
<rect x="234.55" y="332.75" width="1.1" height="1.1" fill="#111"/>
<circle cx="235.1" cy="355.7" r="0.85" fill="#111"/>
<text transform="translate(235.1 316.3) scale(0.1)" font-size="38" text-anchor="middle" fill="#222" stroke="#222" stroke-width="0.5">0.22</text>
<path d="M241.55 309.7V318M241.55 327.3V335.6M240.45 309.7h2.2M240.45 335.6h2.2" stroke="#5a5a5a" stroke-width="0.6" fill="none"/>
<rect x="239.6" y="318" width="3.9" height="9.3" fill="#fbc48c" stroke="#775935" stroke-width="0.7"/>
<line x1="239.6" y1="322.8" x2="243.5" y2="322.8" stroke="#333" stroke-width="0.6"/>
<rect x="241" y="322.55" width="1.1" height="1.1" fill="#111"/>
<circle cx="241.55" cy="346.6" r="0.85" fill="#111"/>
<text transform="translate(241.55 306.5) scale(0.1)" font-size="38" text-anchor="middle" fill="#222" stroke="#222" stroke-width="0.5">0.23</text>
<path d="M248.05 314V321.5M248.05 331V339.1M246.95 314h2.2M246.95 339.1h2.2" stroke="#5a5a5a" stroke-width="0.6" fill="none"/>
<rect x="246.1" y="321.5" width="3.9" height="9.5" fill="#7ab6f2" stroke="#395c82" stroke-width="0.7"/>
<line x1="246.1" y1="327.8" x2="250" y2="327.8" stroke="#333" stroke-width="0.6"/>
<rect x="247.5" y="327.55" width="1.1" height="1.1" fill="#111"/>
<circle cx="248.05" cy="349.4" r="0.85" fill="#111"/>
<text transform="translate(248.05 312.5) scale(0.1)" font-size="38" text-anchor="middle" fill="#222" stroke="#222" stroke-width="0.5">0.15</text>
<path d="M254.5 301.4V311.4M254.5 318.5V331.5M253.4 301.4h2.2M253.4 331.5h2.2" stroke="#5a5a5a" stroke-width="0.6" fill="none"/>
<rect x="252.55" y="311.4" width="3.9" height="7.1" fill="#d0b2e6" stroke="#6d5a82" stroke-width="0.7"/>
<line x1="252.55" y1="314.7" x2="256.45" y2="314.7" stroke="#333" stroke-width="0.6"/>
<rect x="253.95" y="314.45" width="1.1" height="1.1" fill="#111"/>
<circle cx="254.5" cy="298.4" r="0.85" fill="#111"/>
<text transform="translate(254.5 296.2) scale(0.1)" font-size="38" text-anchor="middle" fill="#222" stroke="#222" stroke-width="0.5">0.40</text>
<path d="M267.45 323.5V332.3M267.45 343.1V353.7M266.35 323.5h2.2M266.35 353.7h2.2" stroke="#5a5a5a" stroke-width="0.6" fill="none"/>
<rect x="265.5" y="332.3" width="3.9" height="10.8" fill="#72d98b" stroke="#2f6f42" stroke-width="0.7"/>
<line x1="265.5" y1="337.3" x2="269.4" y2="337.3" stroke="#333" stroke-width="0.6"/>
<rect x="266.9" y="337.05" width="1.1" height="1.1" fill="#111"/>
<text transform="translate(267.45 321.6) scale(0.1)" font-size="38" text-anchor="middle" fill="#222" stroke="#222" stroke-width="0.5">0.33</text>
<path d="M273.9 307.2V315.5M273.9 326V332.3M272.8 307.2h2.2M272.8 332.3h2.2" stroke="#5a5a5a" stroke-width="0.6" fill="none"/>
<rect x="271.95" y="315.5" width="3.9" height="10.5" fill="#fbc48c" stroke="#775935" stroke-width="0.7"/>
<line x1="271.95" y1="321" x2="275.85" y2="321" stroke="#333" stroke-width="0.6"/>
<rect x="273.35" y="320.75" width="1.1" height="1.1" fill="#111"/>
<text transform="translate(273.9 305.8) scale(0.1)" font-size="38" text-anchor="middle" fill="#222" stroke="#222" stroke-width="0.5">0.17</text>
<path d="M280.4 316.7V326.8M280.4 337.8V346.9M279.3 316.7h2.2M279.3 346.9h2.2" stroke="#5a5a5a" stroke-width="0.6" fill="none"/>
<rect x="278.45" y="326.8" width="3.9" height="11" fill="#7ab6f2" stroke="#395c82" stroke-width="0.7"/>
<line x1="278.45" y1="331.8" x2="282.35" y2="331.8" stroke="#333" stroke-width="0.6"/>
<rect x="279.85" y="331.55" width="1.1" height="1.1" fill="#111"/>
<text transform="translate(280.4 315.3) scale(0.1)" font-size="38" text-anchor="middle" fill="#222" stroke="#222" stroke-width="0.5">0.34</text>
<path d="M286.85 302.1V316M286.85 326V335.6M285.75 302.1h2.2M285.75 335.6h2.2" stroke="#5a5a5a" stroke-width="0.6" fill="none"/>
<rect x="284.9" y="316" width="3.9" height="10" fill="#d0b2e6" stroke="#6d5a82" stroke-width="0.7"/>
<line x1="284.9" y1="321" x2="288.8" y2="321" stroke="#333" stroke-width="0.6"/>
<rect x="286.3" y="320.75" width="1.1" height="1.1" fill="#111"/>
<text transform="translate(286.85 299.5) scale(0.1)" font-size="38" text-anchor="middle" fill="#222" stroke="#222" stroke-width="0.5">0.23</text>
<path d="M299.8 320.3V338.4M299.8 346.6V354.4M298.7 320.3h2.2M298.7 354.4h2.2" stroke="#5a5a5a" stroke-width="0.6" fill="none"/>
<rect x="297.85" y="338.4" width="3.9" height="8.2" fill="#72d98b" stroke="#2f6f42" stroke-width="0.7"/>
<line x1="297.85" y1="342.8" x2="301.75" y2="342.8" stroke="#333" stroke-width="0.6"/>
<rect x="299.25" y="340.65" width="1.1" height="1.1" fill="#111"/>
<circle cx="299.8" cy="381.8" r="0.85" fill="#111"/>
<text transform="translate(299.8 317.6) scale(0.1)" font-size="38" text-anchor="middle" fill="#222" stroke="#222" stroke-width="0.5">0.19</text>
<path d="M306.25 314.7V326.5M306.25 335.6V345.6M305.15 314.7h2.2M305.15 345.6h2.2" stroke="#5a5a5a" stroke-width="0.6" fill="none"/>
<rect x="304.3" y="326.5" width="3.9" height="9.1" fill="#fbc48c" stroke="#775935" stroke-width="0.7"/>
<line x1="304.3" y1="331.5" x2="308.2" y2="331.5" stroke="#333" stroke-width="0.6"/>
<rect x="305.7" y="331.25" width="1.1" height="1.1" fill="#111"/>
<circle cx="306.25" cy="310.2" r="0.85" fill="#111"/>
<circle cx="306.25" cy="372" r="0.85" fill="#111"/>
<text transform="translate(306.25 308.3) scale(0.1)" font-size="38" text-anchor="middle" fill="#222" stroke="#222" stroke-width="0.5">0.17</text>
<path d="M312.75 317.6V330M312.75 342.3V349.2M311.65 317.6h2.2M311.65 349.2h2.2" stroke="#5a5a5a" stroke-width="0.6" fill="none"/>
<rect x="310.8" y="330" width="3.9" height="12.3" fill="#7ab6f2" stroke="#395c82" stroke-width="0.7"/>
<line x1="310.8" y1="337.5" x2="314.7" y2="337.5" stroke="#333" stroke-width="0.6"/>
<rect x="312.2" y="337.25" width="1.1" height="1.1" fill="#111"/>
<circle cx="312.75" cy="376.5" r="0.85" fill="#111"/>
<text transform="translate(312.75 315.1) scale(0.1)" font-size="38" text-anchor="middle" fill="#222" stroke="#222" stroke-width="0.5">0.32</text>
<path d="M319.2 308.5V323.9M319.2 335.6V344.2M318.1 308.5h2.2M318.1 344.2h2.2" stroke="#5a5a5a" stroke-width="0.6" fill="none"/>
<rect x="317.25" y="323.9" width="3.9" height="11.7" fill="#d0b2e6" stroke="#6d5a82" stroke-width="0.7"/>
<line x1="317.25" y1="329.6" x2="321.15" y2="329.6" stroke="#333" stroke-width="0.6"/>
<rect x="318.65" y="329.35" width="1.1" height="1.1" fill="#111"/>
<circle cx="319.2" cy="367.2" r="0.85" fill="#111"/>
<text transform="translate(319.2 306.4) scale(0.1)" font-size="38" text-anchor="middle" fill="#222" stroke="#222" stroke-width="0.5">0.31</text>
<path d="M332.15 301.2V312.6M332.15 328.8V345M331.05 301.2h2.2M331.05 345h2.2" stroke="#5a5a5a" stroke-width="0.6" fill="none"/>
<rect x="330.2" y="312.6" width="3.9" height="16.2" fill="#72d98b" stroke="#2f6f42" stroke-width="0.7"/>
<line x1="330.2" y1="319.9" x2="334.1" y2="319.9" stroke="#333" stroke-width="0.6"/>
<rect x="331.6" y="319.65" width="1.1" height="1.1" fill="#111"/>
<text transform="translate(331.15 299.6) scale(0.1)" font-size="38" text-anchor="middle" fill="#222" stroke="#222" stroke-width="0.5">&lt;0.15</text>
<path d="M338.6 289V298.2M338.6 314.5V332M337.5 289h2.2M337.5 332h2.2" stroke="#5a5a5a" stroke-width="0.6" fill="none"/>
<rect x="336.65" y="298.2" width="3.9" height="16.3" fill="#fbc48c" stroke="#775935" stroke-width="0.7"/>
<line x1="336.65" y1="307.2" x2="340.55" y2="307.2" stroke="#333" stroke-width="0.6"/>
<rect x="338.05" y="306.95" width="1.1" height="1.1" fill="#111"/>
<text transform="translate(338.6 287.1) scale(0.1)" font-size="38" text-anchor="middle" fill="#222" stroke="#222" stroke-width="0.5">&lt;0.08</text>
<path d="M345.1 295.5V307.2M345.1 322.6V339.6M344 295.5h2.2M344 339.6h2.2" stroke="#5a5a5a" stroke-width="0.6" fill="none"/>
<rect x="343.15" y="307.2" width="3.9" height="15.4" fill="#7ab6f2" stroke="#395c82" stroke-width="0.7"/>
<line x1="343.15" y1="315.3" x2="347.05" y2="315.3" stroke="#333" stroke-width="0.6"/>
<rect x="344.55" y="315.05" width="1.1" height="1.1" fill="#111"/>
<text transform="translate(345.1 293.9) scale(0.1)" font-size="38" text-anchor="middle" fill="#222" stroke="#222" stroke-width="0.5">&lt;0.2</text>
<path d="M351.55 290.9V305.8M351.55 322.6V338.3M350.45 290.9h2.2M350.45 338.3h2.2" stroke="#5a5a5a" stroke-width="0.6" fill="none"/>
<rect x="349.6" y="305.8" width="3.9" height="16.8" fill="#d0b2e6" stroke="#6d5a82" stroke-width="0.7"/>
<line x1="349.6" y1="313.9" x2="353.5" y2="313.9" stroke="#333" stroke-width="0.6"/>
<rect x="351" y="313.65" width="1.1" height="1.1" fill="#111"/>
<text transform="translate(351.55 288.8) scale(0.1)" font-size="38" text-anchor="middle" fill="#222" stroke="#222" stroke-width="0.5">0.01</text>
<path d="M364.5 330.2V335.6M364.5 352.4V361.3M363.4 330.2h2.2M363.4 361.3h2.2" stroke="#5a5a5a" stroke-width="0.6" fill="none"/>
<rect x="362.55" y="335.6" width="3.9" height="16.8" fill="#72d98b" stroke="#2f6f42" stroke-width="0.7"/>
<line x1="362.55" y1="343.7" x2="366.45" y2="343.7" stroke="#333" stroke-width="0.6"/>
<rect x="363.95" y="343.45" width="1.1" height="1.1" fill="#111"/>
<text transform="translate(364.5 328.6) scale(0.1)" font-size="38" text-anchor="middle" fill="#222" stroke="#222" stroke-width="0.5">0.37</text>
<path d="M370.95 305.3V322M370.95 333.4V342.9M369.85 305.3h2.2M369.85 342.9h2.2" stroke="#5a5a5a" stroke-width="0.6" fill="none"/>
<rect x="369" y="322" width="3.9" height="11.4" fill="#fbc48c" stroke="#775935" stroke-width="0.7"/>
<line x1="369" y1="325.3" x2="372.9" y2="325.3" stroke="#333" stroke-width="0.6"/>
<rect x="370.4" y="325.05" width="1.1" height="1.1" fill="#111"/>
<text transform="translate(370.95 303.4) scale(0.1)" font-size="38" text-anchor="middle" fill="#222" stroke="#222" stroke-width="0.5">0.28</text>
<path d="M377.45 323.4V329.4M377.45 344.5V355.1M376.35 323.4h2.2M376.35 355.1h2.2" stroke="#5a5a5a" stroke-width="0.6" fill="none"/>
<rect x="375.5" y="329.4" width="3.9" height="15.1" fill="#7ab6f2" stroke="#395c82" stroke-width="0.7"/>
<line x1="375.5" y1="336.4" x2="379.4" y2="336.4" stroke="#333" stroke-width="0.6"/>
<rect x="376.9" y="336.15" width="1.1" height="1.1" fill="#111"/>
<text transform="translate(377.45 321.8) scale(0.1)" font-size="38" text-anchor="middle" fill="#222" stroke="#222" stroke-width="0.5">0.43</text>
<path d="M383.9 303.1V320.7M383.9 334.2V347.8M382.8 303.1h2.2M382.8 347.8h2.2" stroke="#5a5a5a" stroke-width="0.6" fill="none"/>
<rect x="381.95" y="320.7" width="3.9" height="13.5" fill="#d0b2e6" stroke="#6d5a82" stroke-width="0.7"/>
<line x1="381.95" y1="325.3" x2="385.85" y2="325.3" stroke="#333" stroke-width="0.6"/>
<rect x="383.35" y="325.05" width="1.1" height="1.1" fill="#111"/>
<text transform="translate(383.9 301.5) scale(0.1)" font-size="38" text-anchor="middle" fill="#222" stroke="#222" stroke-width="0.5">0.17</text>
<path d="M396.85 324.2V330.2M396.85 340.2V350.5M395.75 324.2h2.2M395.75 350.5h2.2" stroke="#5a5a5a" stroke-width="0.6" fill="none"/>
<rect x="394.9" y="330.2" width="3.9" height="10" fill="#72d98b" stroke="#2f6f42" stroke-width="0.7"/>
<line x1="394.9" y1="334.8" x2="398.8" y2="334.8" stroke="#333" stroke-width="0.6"/>
<rect x="396.3" y="334.55" width="1.1" height="1.1" fill="#111"/>
<text transform="translate(396.85 322.6) scale(0.1)" font-size="38" text-anchor="middle" fill="#222" stroke="#222" stroke-width="0.5">0.17</text>
<path d="M403.3 309.9V316.6M403.3 326.9V338.3M402.2 309.9h2.2M402.2 338.3h2.2" stroke="#5a5a5a" stroke-width="0.6" fill="none"/>
<rect x="401.35" y="316.6" width="3.9" height="10.3" fill="#fbc48c" stroke="#775935" stroke-width="0.7"/>
<line x1="401.35" y1="320.7" x2="405.25" y2="320.7" stroke="#333" stroke-width="0.6"/>
<rect x="402.75" y="320.45" width="1.1" height="1.1" fill="#111"/>
<text transform="translate(403.3 308.3) scale(0.1)" font-size="38" text-anchor="middle" fill="#222" stroke="#222" stroke-width="0.5">0.14</text>
<path d="M409.8 318V323.4M409.8 334.2V344.2M408.7 318h2.2M408.7 344.2h2.2" stroke="#5a5a5a" stroke-width="0.6" fill="none"/>
<rect x="407.85" y="323.4" width="3.9" height="10.8" fill="#7ab6f2" stroke="#395c82" stroke-width="0.7"/>
<line x1="407.85" y1="328.3" x2="411.75" y2="328.3" stroke="#333" stroke-width="0.6"/>
<rect x="409.25" y="328.05" width="1.1" height="1.1" fill="#111"/>
<text transform="translate(409.8 316.9) scale(0.1)" font-size="38" text-anchor="middle" fill="#222" stroke="#222" stroke-width="0.5">0.18</text>
<path d="M416.25 308V313.9M416.25 323.4V333.4M415.15 308h2.2M415.15 333.4h2.2" stroke="#5a5a5a" stroke-width="0.6" fill="none"/>
<rect x="414.3" y="313.9" width="3.9" height="9.5" fill="#d0b2e6" stroke="#6d5a82" stroke-width="0.7"/>
<line x1="414.3" y1="318.5" x2="418.2" y2="318.5" stroke="#333" stroke-width="0.6"/>
<rect x="415.7" y="318.25" width="1.1" height="1.1" fill="#111"/>
<text transform="translate(416.25 306.1) scale(0.1)" font-size="38" text-anchor="middle" fill="#222" stroke="#222" stroke-width="0.5">0.39</text>
<path d="M231.5 277.3V400.9H419.6" stroke="#383838" stroke-width="0.8" fill="none"/>
<path d="M231.5 277.5h-2M231.5 298.07h-2M231.5 318.64h-2M231.5 339.21h-2M231.5 359.78h-2M231.5 380.35h-2M231.5 400.92h-2M231.5 287.78h-1.1M231.5 308.36h-1.1M231.5 328.92h-1.1M231.5 349.5h-1.1M231.5 370.06h-1.1M231.5 390.63h-1.1M244.6 400.9v1.7M276.95 400.9v1.7M309.3 400.9v1.7M341.65 400.9v1.7M374 400.9v1.7M406.35 400.9v1.7" stroke="#333" stroke-width="0.7" fill="none"/>
<text transform="translate(228.3 279.2) scale(0.1)" font-size="49" text-anchor="end" fill="#222" stroke="#222" stroke-width="1.2">10</text>
<text transform="translate(228.3 299.77) scale(0.1)" font-size="49" text-anchor="end" fill="#222" stroke="#222" stroke-width="1.2">5</text>
<text transform="translate(228.3 320.34) scale(0.1)" font-size="49" text-anchor="end" fill="#222" stroke="#222" stroke-width="1.2">0</text>
<text transform="translate(228.3 340.91) scale(0.1)" font-size="49" text-anchor="end" fill="#222" stroke="#222" stroke-width="1.2">-5</text>
<text transform="translate(228.3 361.48) scale(0.1)" font-size="49" text-anchor="end" fill="#222" stroke="#222" stroke-width="1.2">-10</text>
<text transform="translate(228.3 382.05) scale(0.1)" font-size="49" text-anchor="end" fill="#222" stroke="#222" stroke-width="1.2">-15</text>
<text transform="translate(228.3 402.62) scale(0.1)" font-size="49" text-anchor="end" fill="#222" stroke="#222" stroke-width="1.2">-20</text>
<text transform="translate(237 279.4) scale(0.1)" font-size="55" text-anchor="start" fill="#111" stroke="#111" stroke-width="0.8">(f)</text>
<text transform="translate(244.8 279.8) scale(0.1)" font-size="62" text-anchor="start" fill="#111" stroke="#111" stroke-width="0.8">Rx1day</text>
<text transform="translate(220.9 330) rotate(-90) scale(0.1)" font-size="60" text-anchor="middle" fill="#111" stroke="#111" stroke-width="0.8">Bias mm</text>
<text transform="translate(245 408.2) scale(0.1)" font-size="61" text-anchor="middle" fill="#111" stroke="#111" stroke-width="0.8">CD</text>
<text transform="translate(277.05 408.2) scale(0.1)" font-size="61" text-anchor="middle" fill="#111" stroke="#111" stroke-width="0.8">NK</text>
<text transform="translate(309.1 408.2) scale(0.1)" font-size="61" text-anchor="middle" fill="#111" stroke="#111" stroke-width="0.8">NX</text>
<text transform="translate(341.15 408.2) scale(0.1)" font-size="61" text-anchor="middle" fill="#111" stroke="#111" stroke-width="0.8">SX</text>
<text transform="translate(373.2 408.2) scale(0.1)" font-size="61" text-anchor="middle" fill="#111" stroke="#111" stroke-width="0.8">TM</text>
<text transform="translate(405.25 408.2) scale(0.1)" font-size="61" text-anchor="middle" fill="#111" stroke="#111" stroke-width="0.8">ACA</text>
</g>
<g id="panel-g">
<line x1="21.5" y1="474.7" x2="209.6" y2="474.7" stroke="#999" stroke-width="0.65"/>
<path d="M24.8 468.6V474.5M24.8 486.7V500.1M23.7 468.6h2.2M23.7 500.1h2.2" stroke="#5a5a5a" stroke-width="0.6" fill="none"/>
<rect x="22.85" y="474.5" width="3.9" height="12.2" fill="#72d98b" stroke="#2f6f42" stroke-width="0.7"/>
<line x1="22.85" y1="478.9" x2="26.75" y2="478.9" stroke="#333" stroke-width="0.6"/>
<rect x="24.25" y="479.45" width="1.1" height="1.1" fill="#111"/>
<text transform="translate(24.8 465.3) scale(0.1)" font-size="38" text-anchor="middle" fill="#222" stroke="#222" stroke-width="0.5">0.12</text>
<path d="M31.25 464.2V471.7M31.25 482V496.2M30.15 464.2h2.2M30.15 496.2h2.2" stroke="#5a5a5a" stroke-width="0.6" fill="none"/>
<rect x="29.3" y="471.7" width="3.9" height="10.3" fill="#fbc48c" stroke="#775935" stroke-width="0.7"/>
<line x1="29.3" y1="475.8" x2="33.2" y2="475.8" stroke="#333" stroke-width="0.6"/>
<rect x="30.7" y="475.55" width="1.1" height="1.1" fill="#111"/>
<text transform="translate(31.25 459.9) scale(0.1)" font-size="38" text-anchor="middle" fill="#222" stroke="#222" stroke-width="0.5">0.15</text>
<path d="M37.75 465.3V471.2M37.75 482.3V493.6M36.65 465.3h2.2M36.65 493.6h2.2" stroke="#5a5a5a" stroke-width="0.6" fill="none"/>
<rect x="35.8" y="471.2" width="3.9" height="11.1" fill="#7ab6f2" stroke="#395c82" stroke-width="0.7"/>
<line x1="35.8" y1="475.6" x2="39.7" y2="475.6" stroke="#333" stroke-width="0.6"/>
<rect x="37.2" y="475.35" width="1.1" height="1.1" fill="#111"/>
<text transform="translate(37.75 462.7) scale(0.1)" font-size="38" text-anchor="middle" fill="#222" stroke="#222" stroke-width="0.5">0.2</text>
<path d="M44.2 462.2V469.4M44.2 478.2V488.7M43.1 462.2h2.2M43.1 488.7h2.2" stroke="#5a5a5a" stroke-width="0.6" fill="none"/>
<rect x="42.25" y="469.4" width="3.9" height="8.8" fill="#d0b2e6" stroke="#6d5a82" stroke-width="0.7"/>
<line x1="42.25" y1="473.8" x2="46.15" y2="473.8" stroke="#333" stroke-width="0.6"/>
<rect x="43.65" y="473.55" width="1.1" height="1.1" fill="#111"/>
<text transform="translate(44.2 457.6) scale(0.1)" font-size="38" text-anchor="middle" fill="#222" stroke="#222" stroke-width="0.5">0.47</text>
<path d="M57.1 473V479.7M57.1 487.2V494.4M56 473h2.2M56 494.4h2.2" stroke="#5a5a5a" stroke-width="0.6" fill="none"/>
<rect x="55.15" y="479.7" width="3.9" height="7.5" fill="#72d98b" stroke="#2f6f42" stroke-width="0.7"/>
<line x1="55.15" y1="483.3" x2="59.05" y2="483.3" stroke="#333" stroke-width="0.6"/>
<rect x="56.55" y="483.05" width="1.1" height="1.1" fill="#111"/>
<circle cx="57.1" cy="464.7" r="0.85" fill="#111"/>
<circle cx="57.1" cy="498.8" r="0.85" fill="#111"/>
<text transform="translate(57.1 471) scale(0.1)" font-size="38" text-anchor="middle" fill="#222" stroke="#222" stroke-width="0.5">0.25</text>
<path d="M63.55 466.8V475.1M63.55 483.6V496.2M62.45 466.8h2.2M62.45 496.2h2.2" stroke="#5a5a5a" stroke-width="0.6" fill="none"/>
<rect x="61.6" y="475.1" width="3.9" height="8.5" fill="#fbc48c" stroke="#775935" stroke-width="0.7"/>
<line x1="61.6" y1="478.9" x2="65.5" y2="478.9" stroke="#333" stroke-width="0.6"/>
<rect x="63" y="478.65" width="1.1" height="1.1" fill="#111"/>
<circle cx="63.55" cy="460.9" r="0.85" fill="#111"/>
<text transform="translate(63.55 465.3) scale(0.1)" font-size="38" text-anchor="middle" fill="#222" stroke="#222" stroke-width="0.5">0.16</text>
<path d="M70.05 464.2V476.4M70.05 485.4V497M68.95 464.2h2.2M68.95 497h2.2" stroke="#5a5a5a" stroke-width="0.6" fill="none"/>
<rect x="68.1" y="476.4" width="3.9" height="9" fill="#7ab6f2" stroke="#395c82" stroke-width="0.7"/>
<line x1="68.1" y1="481" x2="72" y2="481" stroke="#333" stroke-width="0.6"/>
<rect x="69.5" y="480.75" width="1.1" height="1.1" fill="#111"/>
<text transform="translate(70.05 460.7) scale(0.1)" font-size="38" text-anchor="middle" fill="#222" stroke="#222" stroke-width="0.5">0.29</text>
<path d="M76.5 469.4V478.2M76.5 485.9V494.4M75.4 469.4h2.2M75.4 494.4h2.2" stroke="#5a5a5a" stroke-width="0.6" fill="none"/>
<rect x="74.55" y="478.2" width="3.9" height="7.7" fill="#d0b2e6" stroke="#6d5a82" stroke-width="0.7"/>
<line x1="74.55" y1="482.3" x2="78.45" y2="482.3" stroke="#333" stroke-width="0.6"/>
<rect x="75.95" y="482.05" width="1.1" height="1.1" fill="#111"/>
<circle cx="76.5" cy="466.8" r="0.85" fill="#111"/>
<circle cx="76.5" cy="499.6" r="0.85" fill="#111"/>
<text transform="translate(76.5 464.6) scale(0.1)" font-size="38" text-anchor="middle" fill="#222" stroke="#222" stroke-width="0.5">0.26</text>
<path d="M89.4 468.1V481M89.4 491.3V505.2M88.3 468.1h2.2M88.3 505.2h2.2" stroke="#5a5a5a" stroke-width="0.6" fill="none"/>
<rect x="87.45" y="481" width="3.9" height="10.3" fill="#72d98b" stroke="#2f6f42" stroke-width="0.7"/>
<line x1="87.45" y1="486.7" x2="91.35" y2="486.7" stroke="#333" stroke-width="0.6"/>
<rect x="88.85" y="486.45" width="1.1" height="1.1" fill="#111"/>
<circle cx="89.4" cy="521.5" r="0.85" fill="#111"/>
<text transform="translate(89.4 465.8) scale(0.1)" font-size="38" text-anchor="middle" fill="#222" stroke="#222" stroke-width="0.5">0.41</text>
<path d="M95.85 465.3V475.1M95.85 486.7V500.1M94.75 465.3h2.2M94.75 500.1h2.2" stroke="#5a5a5a" stroke-width="0.6" fill="none"/>
<rect x="93.9" y="475.1" width="3.9" height="11.6" fill="#fbc48c" stroke="#775935" stroke-width="0.7"/>
<line x1="93.9" y1="484.1" x2="97.8" y2="484.1" stroke="#333" stroke-width="0.6"/>
<rect x="95.3" y="483.85" width="1.1" height="1.1" fill="#111"/>
<circle cx="95.85" cy="517.6" r="0.85" fill="#111"/>
<text transform="translate(95.85 461.5) scale(0.1)" font-size="38" text-anchor="middle" fill="#222" stroke="#222" stroke-width="0.5">0.41</text>
<path d="M102.35 465.8V475.1M102.35 487.3V499M101.25 465.8h2.2M101.25 499h2.2" stroke="#5a5a5a" stroke-width="0.6" fill="none"/>
<rect x="100.4" y="475.1" width="3.9" height="12.2" fill="#7ab6f2" stroke="#395c82" stroke-width="0.7"/>
<line x1="100.4" y1="482.6" x2="104.3" y2="482.6" stroke="#333" stroke-width="0.6"/>
<rect x="101.8" y="482.35" width="1.1" height="1.1" fill="#111"/>
<circle cx="102.35" cy="516.9" r="0.85" fill="#111"/>
<text transform="translate(102.35 464.8) scale(0.1)" font-size="38" text-anchor="middle" fill="#222" stroke="#222" stroke-width="0.5">0.48</text>
<path d="M108.8 467V479.2M108.8 491.1V498.6M107.7 467h2.2M107.7 498.6h2.2" stroke="#5a5a5a" stroke-width="0.6" fill="none"/>
<rect x="106.85" y="479.2" width="3.9" height="11.9" fill="#d0b2e6" stroke="#6d5a82" stroke-width="0.7"/>
<line x1="106.85" y1="485.1" x2="110.75" y2="485.1" stroke="#333" stroke-width="0.6"/>
<rect x="108.25" y="484.85" width="1.1" height="1.1" fill="#111"/>
<circle cx="108.8" cy="518.1" r="0.85" fill="#111"/>
<text transform="translate(108.8 463.2) scale(0.1)" font-size="38" text-anchor="middle" fill="#222" stroke="#222" stroke-width="0.5">0.44</text>
<path d="M121.7 437.8V447.2M121.7 462.9V474.3M120.6 437.8h2.2M120.6 474.3h2.2" stroke="#5a5a5a" stroke-width="0.6" fill="none"/>
<rect x="119.75" y="447.2" width="3.9" height="15.7" fill="#72d98b" stroke="#2f6f42" stroke-width="0.7"/>
<line x1="119.75" y1="456.2" x2="123.65" y2="456.2" stroke="#333" stroke-width="0.6"/>
<rect x="121.15" y="455.95" width="1.1" height="1.1" fill="#111"/>
<text transform="translate(120.7 435.3) scale(0.1)" font-size="38" text-anchor="middle" fill="#222" stroke="#222" stroke-width="0.5">&lt;0.18</text>
<path d="M128.15 432.4V443.2M128.15 456.7V470.2M127.05 432.4h2.2M127.05 470.2h2.2" stroke="#5a5a5a" stroke-width="0.6" fill="none"/>
<rect x="126.2" y="443.2" width="3.9" height="13.5" fill="#fbc48c" stroke="#775935" stroke-width="0.7"/>
<line x1="126.2" y1="450.7" x2="130.1" y2="450.7" stroke="#333" stroke-width="0.6"/>
<rect x="127.6" y="450.45" width="1.1" height="1.1" fill="#111"/>
<text transform="translate(128.15 430.2) scale(0.1)" font-size="38" text-anchor="middle" fill="#222" stroke="#222" stroke-width="0.5">&lt;0.1</text>
<path d="M134.65 430.2V440.5M134.65 454V466.2M133.55 430.2h2.2M133.55 466.2h2.2" stroke="#5a5a5a" stroke-width="0.6" fill="none"/>
<rect x="132.7" y="440.5" width="3.9" height="13.5" fill="#7ab6f2" stroke="#395c82" stroke-width="0.7"/>
<line x1="132.7" y1="448" x2="136.6" y2="448" stroke="#333" stroke-width="0.6"/>
<rect x="134.1" y="447.75" width="1.1" height="1.1" fill="#111"/>
<text transform="translate(134.65 427.2) scale(0.1)" font-size="38" text-anchor="middle" fill="#222" stroke="#222" stroke-width="0.5">0.09</text>
<path d="M141.1 433.2V442.4M141.1 450.7V461.3M140 433.2h2.2M140 461.3h2.2" stroke="#5a5a5a" stroke-width="0.6" fill="none"/>
<rect x="139.15" y="442.4" width="3.9" height="8.3" fill="#d0b2e6" stroke="#6d5a82" stroke-width="0.7"/>
<line x1="139.15" y1="446.7" x2="143.05" y2="446.7" stroke="#333" stroke-width="0.6"/>
<rect x="140.55" y="446.45" width="1.1" height="1.1" fill="#111"/>
<circle cx="141.1" cy="426.9" r="0.85" fill="#111"/>
<circle cx="141.1" cy="464.8" r="0.85" fill="#111"/>
<text transform="translate(142.1 430.7) scale(0.1)" font-size="38" text-anchor="middle" fill="#222" stroke="#222" stroke-width="0.5">0.41</text>
<path d="M154 455.3V465.6M154 482.4V503.2M152.9 455.3h2.2M152.9 503.2h2.2" stroke="#5a5a5a" stroke-width="0.6" fill="none"/>
<rect x="152.05" y="465.6" width="3.9" height="16.8" fill="#72d98b" stroke="#2f6f42" stroke-width="0.7"/>
<line x1="152.05" y1="474.3" x2="155.95" y2="474.3" stroke="#333" stroke-width="0.6"/>
<rect x="153.45" y="474.05" width="1.1" height="1.1" fill="#111"/>
<text transform="translate(154 452.4) scale(0.1)" font-size="38" text-anchor="middle" fill="#222" stroke="#222" stroke-width="0.5">0.29</text>
<path d="M160.45 448.6V460.2M160.45 476.5V498.6M159.35 448.6h2.2M159.35 498.6h2.2" stroke="#5a5a5a" stroke-width="0.6" fill="none"/>
<rect x="158.5" y="460.2" width="3.9" height="16.3" fill="#fbc48c" stroke="#775935" stroke-width="0.7"/>
<line x1="158.5" y1="468.9" x2="162.4" y2="468.9" stroke="#333" stroke-width="0.6"/>
<rect x="159.9" y="468.65" width="1.1" height="1.1" fill="#111"/>
<text transform="translate(160.45 446.4) scale(0.1)" font-size="38" text-anchor="middle" fill="#222" stroke="#222" stroke-width="0.5">0.33</text>
<path d="M166.95 452.1V464M166.95 480.2V497.3M165.85 452.1h2.2M165.85 497.3h2.2" stroke="#5a5a5a" stroke-width="0.6" fill="none"/>
<rect x="165" y="464" width="3.9" height="16.2" fill="#7ab6f2" stroke="#395c82" stroke-width="0.7"/>
<line x1="165" y1="471.6" x2="168.9" y2="471.6" stroke="#333" stroke-width="0.6"/>
<rect x="166.4" y="471.35" width="1.1" height="1.1" fill="#111"/>
<text transform="translate(166.95 451) scale(0.1)" font-size="38" text-anchor="middle" fill="#222" stroke="#222" stroke-width="0.5">0.44</text>
<path d="M173.4 462.9V470.8M173.4 488.6V505.9M172.3 462.9h2.2M172.3 505.9h2.2" stroke="#5a5a5a" stroke-width="0.6" fill="none"/>
<rect x="171.45" y="470.8" width="3.9" height="17.8" fill="#d0b2e6" stroke="#6d5a82" stroke-width="0.7"/>
<line x1="171.45" y1="478.9" x2="175.35" y2="478.9" stroke="#333" stroke-width="0.6"/>
<rect x="172.85" y="478.65" width="1.1" height="1.1" fill="#111"/>
<text transform="translate(173.4 460.5) scale(0.1)" font-size="38" text-anchor="middle" fill="#222" stroke="#222" stroke-width="0.5">0.49</text>
<path d="M186.3 465.6V472.9M186.3 482.4V493.2M185.2 465.6h2.2M185.2 493.2h2.2" stroke="#5a5a5a" stroke-width="0.6" fill="none"/>
<rect x="184.35" y="472.9" width="3.9" height="9.5" fill="#72d98b" stroke="#2f6f42" stroke-width="0.7"/>
<line x1="184.35" y1="477" x2="188.25" y2="477" stroke="#333" stroke-width="0.6"/>
<rect x="185.75" y="476.75" width="1.1" height="1.1" fill="#111"/>
<text transform="translate(186.3 464) scale(0.1)" font-size="38" text-anchor="middle" fill="#222" stroke="#222" stroke-width="0.5">0.1</text>
<path d="M192.75 460.8V469.4M192.75 477.8V489.2M191.65 460.8h2.2M191.65 489.2h2.2" stroke="#5a5a5a" stroke-width="0.6" fill="none"/>
<rect x="190.8" y="469.4" width="3.9" height="8.4" fill="#fbc48c" stroke="#775935" stroke-width="0.7"/>
<line x1="190.8" y1="472.9" x2="194.7" y2="472.9" stroke="#333" stroke-width="0.6"/>
<rect x="192.2" y="472.65" width="1.1" height="1.1" fill="#111"/>
<text transform="translate(192.75 457) scale(0.1)" font-size="38" text-anchor="middle" fill="#222" stroke="#222" stroke-width="0.5">0.11</text>
<path d="M199.25 462.1V469.4M199.25 477.8V487.3M198.15 462.1h2.2M198.15 487.3h2.2" stroke="#5a5a5a" stroke-width="0.6" fill="none"/>
<rect x="197.3" y="469.4" width="3.9" height="8.4" fill="#7ab6f2" stroke="#395c82" stroke-width="0.7"/>
<line x1="197.3" y1="472.9" x2="201.2" y2="472.9" stroke="#333" stroke-width="0.6"/>
<rect x="198.7" y="472.65" width="1.1" height="1.1" fill="#111"/>
<text transform="translate(199.25 459.7) scale(0.1)" font-size="38" text-anchor="middle" fill="#222" stroke="#222" stroke-width="0.5">0.3</text>
<path d="M205.7 465.4V470.8M205.7 478.3V487.3M204.6 465.4h2.2M204.6 487.3h2.2" stroke="#5a5a5a" stroke-width="0.6" fill="none"/>
<rect x="203.75" y="470.8" width="3.9" height="7.5" fill="#d0b2e6" stroke="#6d5a82" stroke-width="0.7"/>
<line x1="203.75" y1="473.7" x2="207.65" y2="473.7" stroke="#333" stroke-width="0.6"/>
<rect x="205.15" y="473.45" width="1.1" height="1.1" fill="#111"/>
<text transform="translate(205.7 463.2) scale(0.1)" font-size="38" text-anchor="middle" fill="#222" stroke="#222" stroke-width="0.5">0.7</text>
<path d="M21.5 412.9V536.3H209.6" stroke="#383838" stroke-width="0.8" fill="none"/>
<path d="M21.5 425.2h-2M21.5 449.9h-2M21.5 474.6h-2M21.5 499.3h-2M21.5 524h-2M21.5 437.55h-1.1M21.5 462.25h-1.1M21.5 486.95h-1.1M21.5 511.65h-1.1M21.5 536.35h-1.1M21.5 412.85h-1.1M34.3 536.3v1.7M66.6 536.3v1.7M98.9 536.3v1.7M131.2 536.3v1.7M163.5 536.3v1.7M195.8 536.3v1.7" stroke="#333" stroke-width="0.7" fill="none"/>
<text transform="translate(18.3 426.9) scale(0.1)" font-size="49" text-anchor="end" fill="#222" stroke="#222" stroke-width="1.2">20</text>
<text transform="translate(18.3 451.6) scale(0.1)" font-size="49" text-anchor="end" fill="#222" stroke="#222" stroke-width="1.2">10</text>
<text transform="translate(18.3 476.3) scale(0.1)" font-size="49" text-anchor="end" fill="#222" stroke="#222" stroke-width="1.2">0</text>
<text transform="translate(18.3 501) scale(0.1)" font-size="49" text-anchor="end" fill="#222" stroke="#222" stroke-width="1.2">-10</text>
<text transform="translate(18.3 525.7) scale(0.1)" font-size="49" text-anchor="end" fill="#222" stroke="#222" stroke-width="1.2">-20</text>
<text transform="translate(24.9 414.6) scale(0.1)" font-size="56" text-anchor="start" fill="#111" stroke="#111" stroke-width="0.8">(g)</text>
<text transform="translate(34.5 415) scale(0.1)" font-size="61" text-anchor="start" fill="#111" stroke="#111" stroke-width="0.8">Rx5day</text>
<text transform="translate(10.8 465.8) rotate(-90) scale(0.1)" font-size="60" text-anchor="middle" fill="#111" stroke="#111" stroke-width="0.8">Bias mm</text>
<text transform="translate(34.7 544.2) scale(0.1)" font-size="64" text-anchor="middle" fill="#111" stroke="#111" stroke-width="0.8">CD</text>
<text transform="translate(66.7 544.2) scale(0.1)" font-size="64" text-anchor="middle" fill="#111" stroke="#111" stroke-width="0.8">NK</text>
<text transform="translate(98.7 544.2) scale(0.1)" font-size="64" text-anchor="middle" fill="#111" stroke="#111" stroke-width="0.8">NX</text>
<text transform="translate(130.7 544.2) scale(0.1)" font-size="64" text-anchor="middle" fill="#111" stroke="#111" stroke-width="0.8">SX</text>
<text transform="translate(162.7 544.2) scale(0.1)" font-size="64" text-anchor="middle" fill="#111" stroke="#111" stroke-width="0.8">TM</text>
<text transform="translate(194.7 544.2) scale(0.1)" font-size="64" text-anchor="middle" fill="#111" stroke="#111" stroke-width="0.8">ACA</text>
</g>
<g id="panel-h">
<line x1="231.5" y1="457.4" x2="419.6" y2="457.4" stroke="#666" stroke-width="0.65"/>
<path d="M235.1 469.9V477.6M235.1 489.8V500.9M234 469.9h2.2M234 500.9h2.2" stroke="#5a5a5a" stroke-width="0.6" fill="none"/>
<rect x="233.15" y="477.6" width="3.9" height="12.2" fill="#72d98b" stroke="#2f6f42" stroke-width="0.7"/>
<line x1="233.15" y1="483.3" x2="237.05" y2="483.3" stroke="#333" stroke-width="0.6"/>
<rect x="234.55" y="483.05" width="1.1" height="1.1" fill="#111"/>
<circle cx="235.1" cy="511.2" r="0.85" fill="#111"/>
<text transform="translate(235.1 467.9) scale(0.1)" font-size="38" text-anchor="middle" fill="#222" stroke="#222" stroke-width="0.5">0.24</text>
<path d="M241.55 465.3V474.5M241.55 487.4V497.8M240.45 465.3h2.2M240.45 497.8h2.2" stroke="#5a5a5a" stroke-width="0.6" fill="none"/>
<rect x="239.6" y="474.5" width="3.9" height="12.9" fill="#fbc48c" stroke="#775935" stroke-width="0.7"/>
<line x1="239.6" y1="480.2" x2="243.5" y2="480.2" stroke="#333" stroke-width="0.6"/>
<rect x="241" y="479.95" width="1.1" height="1.1" fill="#111"/>
<circle cx="241.55" cy="508.6" r="0.85" fill="#111"/>
<text transform="translate(241.55 463.8) scale(0.1)" font-size="38" text-anchor="middle" fill="#222" stroke="#222" stroke-width="0.5">0.25</text>
<path d="M248.05 463V469.9M248.05 482.8V493.1M246.95 463h2.2M246.95 493.1h2.2" stroke="#5a5a5a" stroke-width="0.6" fill="none"/>
<rect x="246.1" y="469.9" width="3.9" height="12.9" fill="#7ab6f2" stroke="#395c82" stroke-width="0.7"/>
<line x1="246.1" y1="475.1" x2="250" y2="475.1" stroke="#333" stroke-width="0.6"/>
<rect x="247.5" y="474.85" width="1.1" height="1.1" fill="#111"/>
<circle cx="248.05" cy="504.2" r="0.85" fill="#111"/>
<text transform="translate(248.05 460.7) scale(0.1)" font-size="38" text-anchor="middle" fill="#222" stroke="#222" stroke-width="0.5">0.21</text>
<path d="M254.5 435.9V446.7M254.5 460.4V473.8M253.4 435.9h2.2M253.4 473.8h2.2" stroke="#5a5a5a" stroke-width="0.6" fill="none"/>
<rect x="252.55" y="446.7" width="3.9" height="13.7" fill="#d0b2e6" stroke="#6d5a82" stroke-width="0.7"/>
<line x1="252.55" y1="453.7" x2="256.45" y2="453.7" stroke="#333" stroke-width="0.6"/>
<rect x="253.95" y="453.45" width="1.1" height="1.1" fill="#111"/>
<circle cx="254.5" cy="484.6" r="0.85" fill="#111"/>
<text transform="translate(254.5 434.4) scale(0.1)" font-size="38" text-anchor="middle" fill="#222" stroke="#222" stroke-width="0.5">0.12</text>
<path d="M267.45 463V472M267.45 482.3V493.1M266.35 463h2.2M266.35 493.1h2.2" stroke="#5a5a5a" stroke-width="0.6" fill="none"/>
<rect x="265.5" y="472" width="3.9" height="10.3" fill="#72d98b" stroke="#2f6f42" stroke-width="0.7"/>
<line x1="265.5" y1="476.4" x2="269.4" y2="476.4" stroke="#333" stroke-width="0.6"/>
<rect x="266.9" y="476.15" width="1.1" height="1.1" fill="#111"/>
<text transform="translate(267.45 462) scale(0.1)" font-size="38" text-anchor="middle" fill="#222" stroke="#222" stroke-width="0.5">0.37</text>
<path d="M273.9 462.2V470.4M273.9 478.9V484.9M272.8 462.2h2.2M272.8 484.9h2.2" stroke="#5a5a5a" stroke-width="0.6" fill="none"/>
<rect x="271.95" y="470.4" width="3.9" height="8.5" fill="#fbc48c" stroke="#775935" stroke-width="0.7"/>
<line x1="271.95" y1="474.5" x2="275.85" y2="474.5" stroke="#333" stroke-width="0.6"/>
<rect x="273.35" y="474.25" width="1.1" height="1.1" fill="#111"/>
<circle cx="273.9" cy="491.8" r="0.85" fill="#111"/>
<text transform="translate(273.9 460.7) scale(0.1)" font-size="38" text-anchor="middle" fill="#222" stroke="#222" stroke-width="0.5">0.35</text>
<path d="M280.4 458.3V466M280.4 474.5V479.7M279.3 458.3h2.2M279.3 479.7h2.2" stroke="#5a5a5a" stroke-width="0.6" fill="none"/>
<rect x="278.45" y="466" width="3.9" height="8.5" fill="#7ab6f2" stroke="#395c82" stroke-width="0.7"/>
<line x1="278.45" y1="469.9" x2="282.35" y2="469.9" stroke="#333" stroke-width="0.6"/>
<rect x="279.85" y="469.65" width="1.1" height="1.1" fill="#111"/>
<circle cx="280.4" cy="487.4" r="0.85" fill="#111"/>
<text transform="translate(280.4 455) scale(0.1)" font-size="38" text-anchor="middle" fill="#222" stroke="#222" stroke-width="0.5">0.31</text>
<path d="M286.85 439.5V449.3M286.85 457V463.5M285.75 439.5h2.2M285.75 463.5h2.2" stroke="#5a5a5a" stroke-width="0.6" fill="none"/>
<rect x="284.9" y="449.3" width="3.9" height="7.7" fill="#d0b2e6" stroke="#6d5a82" stroke-width="0.7"/>
<line x1="284.9" y1="453.1" x2="288.8" y2="453.1" stroke="#333" stroke-width="0.6"/>
<rect x="286.3" y="452.85" width="1.1" height="1.1" fill="#111"/>
<circle cx="286.85" cy="436.9" r="0.85" fill="#111"/>
<circle cx="286.85" cy="472" r="0.85" fill="#111"/>
<text transform="translate(286.85 434.1) scale(0.1)" font-size="38" text-anchor="middle" fill="#222" stroke="#222" stroke-width="0.5">0.41</text>
<path d="M299.8 474.5V484.9M299.8 497V502.9M298.7 474.5h2.2M298.7 502.9h2.2" stroke="#5a5a5a" stroke-width="0.6" fill="none"/>
<rect x="297.85" y="484.9" width="3.9" height="12.1" fill="#72d98b" stroke="#2f6f42" stroke-width="0.7"/>
<line x1="297.85" y1="492.6" x2="301.75" y2="492.6" stroke="#333" stroke-width="0.6"/>
<rect x="299.25" y="492.35" width="1.1" height="1.1" fill="#111"/>
<circle cx="299.8" cy="524.1" r="0.85" fill="#111"/>
<text transform="translate(299.8 472.8) scale(0.1)" font-size="38" text-anchor="middle" fill="#222" stroke="#222" stroke-width="0.5">0.40</text>
<path d="M306.25 474.5V483.3M306.25 495.7V500.9M305.15 474.5h2.2M305.15 500.9h2.2" stroke="#5a5a5a" stroke-width="0.6" fill="none"/>
<rect x="304.3" y="483.3" width="3.9" height="12.4" fill="#fbc48c" stroke="#775935" stroke-width="0.7"/>
<line x1="304.3" y1="491.1" x2="308.2" y2="491.1" stroke="#333" stroke-width="0.6"/>
<rect x="305.7" y="490.85" width="1.1" height="1.1" fill="#111"/>
<circle cx="306.25" cy="522.3" r="0.85" fill="#111"/>
<text transform="translate(306.25 468.4) scale(0.1)" font-size="38" text-anchor="middle" fill="#222" stroke="#222" stroke-width="0.5">0.46</text>
<path d="M312.75 473.1V481.2M312.75 494.5V500M311.65 473.1h2.2M311.65 500h2.2" stroke="#5a5a5a" stroke-width="0.6" fill="none"/>
<rect x="310.8" y="481.2" width="3.9" height="13.3" fill="#7ab6f2" stroke="#395c82" stroke-width="0.7"/>
<line x1="310.8" y1="489.5" x2="314.7" y2="489.5" stroke="#333" stroke-width="0.6"/>
<rect x="312.2" y="489.25" width="1.1" height="1.1" fill="#111"/>
<circle cx="312.75" cy="520.7" r="0.85" fill="#111"/>
<text transform="translate(312.75 471.4) scale(0.1)" font-size="38" text-anchor="middle" fill="#222" stroke="#222" stroke-width="0.5">0.42</text>
<path d="M319.2 466.2V476.5M319.2 488.6V497.3M318.1 466.2h2.2M318.1 497.3h2.2" stroke="#5a5a5a" stroke-width="0.6" fill="none"/>
<rect x="317.25" y="476.5" width="3.9" height="12.1" fill="#d0b2e6" stroke="#6d5a82" stroke-width="0.7"/>
<line x1="317.25" y1="484.6" x2="321.15" y2="484.6" stroke="#333" stroke-width="0.6"/>
<rect x="318.65" y="484.35" width="1.1" height="1.1" fill="#111"/>
<circle cx="319.2" cy="516.8" r="0.85" fill="#111"/>
<text transform="translate(319.2 463.2) scale(0.1)" font-size="38" text-anchor="middle" fill="#222" stroke="#222" stroke-width="0.5">0.27</text>
<path d="M332.15 456.2V468.1M332.15 495.9V518.4M331.05 456.2h2.2M331.05 518.4h2.2" stroke="#5a5a5a" stroke-width="0.6" fill="none"/>
<rect x="330.2" y="468.1" width="3.9" height="27.8" fill="#72d98b" stroke="#2f6f42" stroke-width="0.7"/>
<line x1="330.2" y1="482.4" x2="334.1" y2="482.4" stroke="#333" stroke-width="0.6"/>
<rect x="331.6" y="482.15" width="1.1" height="1.1" fill="#111"/>
<text transform="translate(332.15 454.6) scale(0.1)" font-size="38" text-anchor="middle" fill="#222" stroke="#222" stroke-width="0.5">&lt;0.1</text>
<path d="M338.6 452.1V462.9M338.6 491.9V511.6M337.5 452.1h2.2M337.5 511.6h2.2" stroke="#5a5a5a" stroke-width="0.6" fill="none"/>
<rect x="336.65" y="462.9" width="3.9" height="29" fill="#fbc48c" stroke="#775935" stroke-width="0.7"/>
<line x1="336.65" y1="478.9" x2="340.55" y2="478.9" stroke="#333" stroke-width="0.6"/>
<rect x="338.05" y="478.65" width="1.1" height="1.1" fill="#111"/>
<text transform="translate(338.6 448.9) scale(0.1)" font-size="38" text-anchor="middle" fill="#222" stroke="#222" stroke-width="0.5">0.18</text>
<path d="M345.1 448.6V464.3M345.1 491.1V514.3M344 448.6h2.2M344 514.3h2.2" stroke="#5a5a5a" stroke-width="0.6" fill="none"/>
<rect x="343.15" y="464.3" width="3.9" height="26.8" fill="#7ab6f2" stroke="#395c82" stroke-width="0.7"/>
<line x1="343.15" y1="479.2" x2="347.05" y2="479.2" stroke="#333" stroke-width="0.6"/>
<rect x="344.55" y="478.95" width="1.1" height="1.1" fill="#111"/>
<text transform="translate(345.6 444.8) scale(0.1)" font-size="38" text-anchor="middle" fill="#222" stroke="#222" stroke-width="0.5">&lt;0.16</text>
<path d="M351.55 434.2V456.2M351.55 484.6V499.4M350.45 434.2h2.2M350.45 499.4h2.2" stroke="#5a5a5a" stroke-width="0.6" fill="none"/>
<rect x="349.6" y="456.2" width="3.9" height="28.4" fill="#d0b2e6" stroke="#6d5a82" stroke-width="0.7"/>
<line x1="349.6" y1="475.6" x2="353.5" y2="475.6" stroke="#333" stroke-width="0.6"/>
<rect x="351" y="469.65" width="1.1" height="1.1" fill="#111"/>
<text transform="translate(351.55 431.6) scale(0.1)" font-size="38" text-anchor="middle" fill="#222" stroke="#222" stroke-width="0.5">&lt;0.01</text>
<path d="M364.5 478.3V487.8M364.5 503.5V515.7M363.4 478.3h2.2M363.4 515.7h2.2" stroke="#5a5a5a" stroke-width="0.6" fill="none"/>
<rect x="362.55" y="487.8" width="3.9" height="15.7" fill="#72d98b" stroke="#2f6f42" stroke-width="0.7"/>
<line x1="362.55" y1="494" x2="366.45" y2="494" stroke="#333" stroke-width="0.6"/>
<rect x="363.95" y="493.75" width="1.1" height="1.1" fill="#111"/>
<text transform="translate(363 476.2) scale(0.1)" font-size="38" text-anchor="middle" fill="#222" stroke="#222" stroke-width="0.5">0.56</text>
<path d="M370.95 474.3V483.8M370.95 500.5V511.4M369.85 474.3h2.2M369.85 511.4h2.2" stroke="#5a5a5a" stroke-width="0.6" fill="none"/>
<rect x="369" y="483.8" width="3.9" height="16.7" fill="#fbc48c" stroke="#775935" stroke-width="0.7"/>
<line x1="369" y1="490.5" x2="372.9" y2="490.5" stroke="#333" stroke-width="0.6"/>
<rect x="370.4" y="490.25" width="1.1" height="1.1" fill="#111"/>
<text transform="translate(369.95 471.9) scale(0.1)" font-size="38" text-anchor="middle" fill="#222" stroke="#222" stroke-width="0.5">0.58</text>
<path d="M377.45 468.3V479.7M377.45 494.6V504M376.35 468.3h2.2M376.35 504h2.2" stroke="#5a5a5a" stroke-width="0.6" fill="none"/>
<rect x="375.5" y="479.7" width="3.9" height="14.9" fill="#7ab6f2" stroke="#395c82" stroke-width="0.7"/>
<line x1="375.5" y1="485.1" x2="379.4" y2="485.1" stroke="#333" stroke-width="0.6"/>
<rect x="376.9" y="484.85" width="1.1" height="1.1" fill="#111"/>
<text transform="translate(376.45 465.4) scale(0.1)" font-size="38" text-anchor="middle" fill="#222" stroke="#222" stroke-width="0.5">0.56</text>
<path d="M383.9 444V458M383.9 474.3V481M382.8 444h2.2M382.8 481h2.2" stroke="#5a5a5a" stroke-width="0.6" fill="none"/>
<rect x="381.95" y="458" width="3.9" height="16.3" fill="#d0b2e6" stroke="#6d5a82" stroke-width="0.7"/>
<line x1="381.95" y1="464" x2="385.85" y2="464" stroke="#333" stroke-width="0.6"/>
<rect x="383.35" y="463.75" width="1.1" height="1.1" fill="#111"/>
<text transform="translate(383.9 442.1) scale(0.1)" font-size="38" text-anchor="middle" fill="#222" stroke="#222" stroke-width="0.5">0.47</text>
<path d="M396.85 473.7V478.3M396.85 490.5V502.2M395.75 473.7h2.2M395.75 502.2h2.2" stroke="#5a5a5a" stroke-width="0.6" fill="none"/>
<rect x="394.9" y="478.3" width="3.9" height="12.2" fill="#72d98b" stroke="#2f6f42" stroke-width="0.7"/>
<line x1="394.9" y1="484.3" x2="398.8" y2="484.3" stroke="#333" stroke-width="0.6"/>
<rect x="396.3" y="484.05" width="1.1" height="1.1" fill="#111"/>
<text transform="translate(396.85 472.1) scale(0.1)" font-size="38" text-anchor="middle" fill="#222" stroke="#222" stroke-width="0.5">0.33</text>
<path d="M403.3 469.7V475.1M403.3 486.5V498.6M402.2 469.7h2.2M402.2 498.6h2.2" stroke="#5a5a5a" stroke-width="0.6" fill="none"/>
<rect x="401.35" y="475.1" width="3.9" height="11.4" fill="#fbc48c" stroke="#775935" stroke-width="0.7"/>
<line x1="401.35" y1="480.5" x2="405.25" y2="480.5" stroke="#333" stroke-width="0.6"/>
<rect x="402.75" y="480.25" width="1.1" height="1.1" fill="#111"/>
<text transform="translate(403.3 467.3) scale(0.1)" font-size="38" text-anchor="middle" fill="#222" stroke="#222" stroke-width="0.5">0.41</text>
<path d="M409.8 466.2V471M409.8 483.8V495.1M408.7 466.2h2.2M408.7 495.1h2.2" stroke="#5a5a5a" stroke-width="0.6" fill="none"/>
<rect x="407.85" y="471" width="3.9" height="12.8" fill="#7ab6f2" stroke="#395c82" stroke-width="0.7"/>
<line x1="407.85" y1="477" x2="411.75" y2="477" stroke="#333" stroke-width="0.6"/>
<rect x="409.25" y="476.75" width="1.1" height="1.1" fill="#111"/>
<text transform="translate(409.8 463.2) scale(0.1)" font-size="38" text-anchor="middle" fill="#222" stroke="#222" stroke-width="0.5">0.35</text>
<path d="M416.25 448.6V455.3M416.25 464.8V478.3M415.15 448.6h2.2M415.15 478.3h2.2" stroke="#5a5a5a" stroke-width="0.6" fill="none"/>
<rect x="414.3" y="455.3" width="3.9" height="9.5" fill="#d0b2e6" stroke="#6d5a82" stroke-width="0.7"/>
<line x1="414.3" y1="459.4" x2="418.2" y2="459.4" stroke="#333" stroke-width="0.6"/>
<rect x="415.7" y="459.15" width="1.1" height="1.1" fill="#111"/>
<text transform="translate(416.25 446.4) scale(0.1)" font-size="38" text-anchor="middle" fill="#222" stroke="#222" stroke-width="0.5">0.42</text>
<path d="M231.5 414V536.3H419.6" stroke="#383838" stroke-width="0.8" fill="none"/>
<path d="M231.5 422.2h-2M231.5 439.75h-2M231.5 457.3h-2M231.5 474.85h-2M231.5 492.4h-2M231.5 509.95h-2M231.5 527.5h-2M231.5 430.98h-1.1M231.5 448.52h-1.1M231.5 466.08h-1.1M231.5 483.62h-1.1M231.5 501.17h-1.1M231.5 518.73h-1.1M231.5 536.27h-1.1M244.6 536.3v1.7M276.95 536.3v1.7M309.3 536.3v1.7M341.65 536.3v1.7M374 536.3v1.7M406.35 536.3v1.7" stroke="#333" stroke-width="0.7" fill="none"/>
<text transform="translate(228.3 423.9) scale(0.1)" font-size="49" text-anchor="end" fill="#222" stroke="#222" stroke-width="1.2">1.0</text>
<text transform="translate(228.3 441.45) scale(0.1)" font-size="49" text-anchor="end" fill="#222" stroke="#222" stroke-width="1.2">0.5</text>
<text transform="translate(228.3 459) scale(0.1)" font-size="49" text-anchor="end" fill="#222" stroke="#222" stroke-width="1.2">0.0</text>
<text transform="translate(228.3 476.55) scale(0.1)" font-size="49" text-anchor="end" fill="#222" stroke="#222" stroke-width="1.2">-0.5</text>
<text transform="translate(228.3 494.1) scale(0.1)" font-size="49" text-anchor="end" fill="#222" stroke="#222" stroke-width="1.2">-1.0</text>
<text transform="translate(228.3 511.65) scale(0.1)" font-size="49" text-anchor="end" fill="#222" stroke="#222" stroke-width="1.2">-1.5</text>
<text transform="translate(228.3 529.2) scale(0.1)" font-size="49" text-anchor="end" fill="#222" stroke="#222" stroke-width="1.2">-2.0</text>
<text transform="translate(236 415.2) scale(0.1)" font-size="54" text-anchor="start" fill="#111" stroke="#111" stroke-width="0.8">(h)</text>
<text transform="translate(244.8 415.6) scale(0.1)" font-size="62" text-anchor="start" fill="#111" stroke="#111" stroke-width="0.8">SDII</text>
<text transform="translate(219.7 466.8) rotate(-90) scale(0.1)" font-size="60" text-anchor="middle" fill="#111" stroke="#111" stroke-width="0.8">Bias mm/day</text>
<text transform="translate(245 544.2) scale(0.1)" font-size="64" text-anchor="middle" fill="#111" stroke="#111" stroke-width="0.8">CD</text>
<text transform="translate(277.05 544.2) scale(0.1)" font-size="64" text-anchor="middle" fill="#111" stroke="#111" stroke-width="0.8">NK</text>
<text transform="translate(309.1 544.2) scale(0.1)" font-size="64" text-anchor="middle" fill="#111" stroke="#111" stroke-width="0.8">NX</text>
<text transform="translate(341.15 544.2) scale(0.1)" font-size="64" text-anchor="middle" fill="#111" stroke="#111" stroke-width="0.8">SX</text>
<text transform="translate(373.2 544.2) scale(0.1)" font-size="64" text-anchor="middle" fill="#111" stroke="#111" stroke-width="0.8">TM</text>
<text transform="translate(405.25 544.2) scale(0.1)" font-size="64" text-anchor="middle" fill="#111" stroke="#111" stroke-width="0.8">ACA</text>
</g>
<g id="legend">
<rect x="240.4" y="15.4" width="36.7" height="31.3" fill="#fff" stroke="#bbb" stroke-width="0.4"/>
<rect x="241.0" y="16.55" width="6.4" height="2.9" fill="#72d98b" stroke="#444" stroke-width="0.7"/>
<line x1="241.6" y1="18" x2="247.2" y2="18" stroke="#fff" stroke-opacity="0.7" stroke-width="0.5"/>
<text transform="translate(248.6 19.05) scale(0.1)" font-size="32" text-anchor="start" fill="#222" stroke="#222" stroke-width="0.5">MME</text>
<rect x="241.0" y="20.2" width="6.4" height="2.9" fill="#fbc48c" stroke="#444" stroke-width="0.7"/>
<line x1="241.6" y1="21.65" x2="247.2" y2="21.65" stroke="#fff" stroke-opacity="0.7" stroke-width="0.5"/>
<text transform="translate(248.6 22.7) scale(0.1)" font-size="32" text-anchor="start" fill="#222" stroke="#222" stroke-width="0.5">AMME</text>
<rect x="241.0" y="23.85" width="6.4" height="2.9" fill="#7ab6f2" stroke="#444" stroke-width="0.7"/>
<line x1="241.6" y1="25.3" x2="247.2" y2="25.3" stroke="#fff" stroke-opacity="0.7" stroke-width="0.5"/>
<text transform="translate(248.6 26.35) scale(0.1)" font-size="32" text-anchor="start" fill="#222" stroke="#222" stroke-width="0.5">MM-PERF</text>
<rect x="241.0" y="27.5" width="6.4" height="2.9" fill="#d0b2e6" stroke="#444" stroke-width="0.7"/>
<line x1="241.6" y1="28.95" x2="247.2" y2="28.95" stroke="#fff" stroke-opacity="0.7" stroke-width="0.5"/>
<text transform="translate(248.6 30) scale(0.1)" font-size="32" text-anchor="start" fill="#222" stroke="#222" stroke-width="0.5">WM</text>
<text transform="translate(248.6 33.95) scale(0.1)" font-size="32" text-anchor="start" fill="#222" stroke="#222" stroke-width="0.5">Range within 1.5IQR</text>
<text transform="translate(248.6 37.85) scale(0.1)" font-size="32" text-anchor="start" fill="#222" stroke="#222" stroke-width="0.5">Median Line</text>
<text transform="translate(248.6 41.85) scale(0.1)" font-size="32" text-anchor="start" fill="#222" stroke="#222" stroke-width="0.5">Mean</text>
<text transform="translate(248.6 45.55) scale(0.1)" font-size="32" text-anchor="start" fill="#222" stroke="#222" stroke-width="0.5">Outliers</text>
<path d="M244.4 31.6V34.2M243.3 31.6h2.2M243.3 34.2h2.2" stroke="#555" stroke-width="0.5" fill="none"/>
<line x1="242.2" y1="36.8" x2="246.6" y2="36.8" stroke="#aaa" stroke-width="0.5"/>
<rect x="243.9" y="40.3" width="1" height="1" fill="#111"/>
<circle cx="244.4" cy="44.5" r="0.6" fill="#111"/>
</g>
<path d="M160.2 38.5h4M340.8 39.3h4" stroke="#555" stroke-width="0.4" fill="none"/>
</svg>
</body></html>
